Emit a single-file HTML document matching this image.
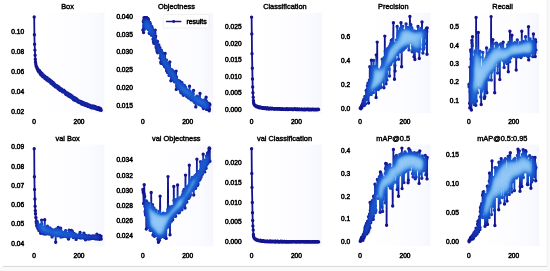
<!DOCTYPE html>
<html lang="en"><head><meta charset="utf-8"><title>results</title>
<style>
html,body{margin:0;padding:0;background:#fff;}
body{width:550px;height:271px;overflow:hidden;}
svg text{font-family:"Liberation Sans", Arial, Helvetica, sans-serif;fill:#000;}
svg text.t{font-weight:400;stroke:#000;stroke-width:0.42px;}
svg text.k{font-weight:400;stroke:#000;stroke-width:0.48px;}
</style></head><body>
<svg width="550" height="271" viewBox="0 0 550 271" style="display:block">
<defs>
<filter id="dm" x="0" y="0" width="550" height="271" filterUnits="userSpaceOnUse" color-interpolation-filters="sRGB"><feGaussianBlur in="SourceAlpha" stdDeviation="3.6" result="bl"/><feColorMatrix in="bl" type="matrix" values="0 0 0 1 0  0 0 0 1 0  0 0 0 1 0  0 0 0 0 1" result="dens"/><feComponentTransfer in="dens" result="col"><feFuncR type="table" tableValues="0.078 0.078 0.078 0.078 0.078 0.078 0.078 0.078 0.078 0.078 0.078 0.078 0.078 0.078 0.078 0.078 0.078 0.078 0.078 0.078 0.078 0.078 0.078 0.080 0.082 0.084 0.086 0.088 0.090 0.093 0.096 0.099 0.102 0.116 0.130 0.155 0.226 0.302 0.400 0.489 0.573"/><feFuncG type="table" tableValues="0.078 0.078 0.078 0.078 0.078 0.078 0.078 0.078 0.078 0.078 0.078 0.078 0.078 0.078 0.078 0.078 0.078 0.095 0.112 0.129 0.146 0.163 0.180 0.201 0.222 0.243 0.264 0.285 0.306 0.316 0.325 0.335 0.345 0.370 0.396 0.431 0.505 0.581 0.665 0.730 0.784"/><feFuncB type="table" tableValues="0.561 0.561 0.561 0.561 0.561 0.561 0.561 0.561 0.561 0.561 0.561 0.561 0.561 0.561 0.561 0.561 0.561 0.580 0.599 0.618 0.637 0.656 0.675 0.692 0.708 0.725 0.742 0.759 0.776 0.784 0.792 0.800 0.808 0.820 0.833 0.848 0.871 0.896 0.925 0.948 0.965"/></feComponentTransfer><feComposite in="col" in2="SourceAlpha" operator="in"/></filter>
<linearGradient id="bg" x1="0" y1="0" x2="1" y2="0"><stop offset="0" stop-color="#ffffff"/><stop offset="0.55" stop-color="#fdfdff"/><stop offset="0.82" stop-color="#fafbff"/><stop offset="1" stop-color="#f5f7fd"/></linearGradient>
</defs>
<rect x="0" y="0" width="550" height="271" fill="#ffffff"/>
<rect x="0" y="266.6" width="550" height="4.4" fill="#f9f9f9"/>
<rect x="3" y="265.9" width="544.4" height="1.0" fill="#d6d6d6"/>
<rect x="547.2" y="0" width="2.8" height="271" fill="#f8f8f8"/>
<rect x="546.7" y="0" width="0.7" height="266.6" fill="#ececec"/>
<rect x="34.8" y="12.8" width="69.7" height="100.4" fill="url(#bg)"/>
<rect x="143.5" y="12.8" width="69.7" height="100.4" fill="url(#bg)"/>
<rect x="252.2" y="12.8" width="69.7" height="100.4" fill="url(#bg)"/>
<rect x="360.8" y="12.8" width="69.7" height="100.4" fill="url(#bg)"/>
<rect x="469.5" y="12.8" width="69.7" height="100.4" fill="url(#bg)"/>
<rect x="34.8" y="144.6" width="69.7" height="101.6" fill="url(#bg)"/>
<rect x="143.5" y="144.6" width="69.7" height="101.6" fill="url(#bg)"/>
<rect x="252.2" y="144.6" width="69.7" height="101.6" fill="url(#bg)"/>
<rect x="360.8" y="144.6" width="69.7" height="101.6" fill="url(#bg)"/>
<rect x="469.5" y="144.6" width="69.7" height="101.6" fill="url(#bg)"/>
<rect x="163.4" y="14.6" width="45.8" height="13.4" rx="1.2" fill="#ffffff" fill-opacity="0.85" stroke="#e6e6ec" stroke-width="0.6"/>
<g filter="url(#dm)" stroke="#15158f" fill="none" stroke-linejoin="round" stroke-linecap="round">
<polyline points="34.2,17.0 34.4,34.7 34.6,44.2 34.9,50.1 35.1,55.3 35.3,59.3 35.5,62.0 35.8,64.1 36.0,65.1 36.2,66.4 36.4,66.4 36.7,67.1 36.9,68.1 37.1,67.6 37.3,69.1 37.6,69.3 37.8,70.2 38.0,70.3 38.2,71.0 38.5,71.4 38.7,70.0 38.9,72.1 39.1,71.7 39.4,70.5 39.6,70.9 39.8,71.5 40.0,72.3 40.2,73.8 40.5,74.3 40.7,72.2 40.9,73.4 41.1,75.0 41.4,73.4 41.6,73.3 41.8,73.9 42.0,73.5 42.3,76.1 42.5,74.8 42.7,75.7 42.9,76.8 43.2,75.1 43.4,74.9 43.6,75.7 43.8,77.3 44.1,75.6 44.3,76.7 44.5,76.9 44.7,76.3 45.0,78.5 45.2,76.6 45.4,77.0 45.6,76.9 45.8,79.1 46.1,77.2 46.3,79.4 46.5,79.8 46.7,77.6 47.0,77.8 47.2,77.9 47.4,79.5 47.6,80.2 47.9,80.8 48.1,79.0 48.3,79.0 48.5,78.9 48.8,81.0 49.0,81.3 49.2,79.8 49.4,79.7 49.7,79.6 49.9,82.1 50.1,81.5 50.3,80.3 50.6,82.1 50.8,81.2 51.0,83.3 51.2,81.4 51.4,81.2 51.7,81.5 51.9,81.6 52.1,82.2 52.3,84.0 52.6,82.3 52.8,84.4 53.0,82.5 53.2,85.0 53.5,82.9 53.7,85.2 53.9,84.9 54.1,85.3 54.4,83.9 54.6,85.9 54.8,85.6 55.0,86.5 55.3,86.3 55.5,86.1 55.7,87.0 55.9,85.3 56.2,86.8 56.4,85.5 56.6,85.9 56.8,87.3 57.0,85.8 57.3,86.4 57.5,86.2 57.7,88.2 57.9,87.2 58.2,88.7 58.4,86.6 58.6,88.9 58.8,89.1 59.1,89.5 59.3,89.4 59.5,87.7 59.7,88.1 60.0,90.2 60.2,89.9 60.4,89.9 60.6,88.8 60.9,90.1 61.1,89.3 61.3,88.9 61.5,89.2 61.8,90.9 62.0,90.8 62.2,91.2 62.4,91.8 62.6,91.8 62.9,91.8 63.1,91.9 63.3,92.0 63.5,90.9 63.8,90.3 64.0,90.7 64.2,90.8 64.4,91.1 64.7,91.6 64.9,91.2 65.1,91.7 65.3,92.7 65.6,94.1 65.8,93.3 66.0,94.3 66.2,94.6 66.5,93.5 66.7,92.8 66.9,94.7 67.1,93.1 67.4,93.8 67.6,95.3 67.8,93.1 68.0,95.1 68.2,95.5 68.5,93.8 68.7,96.1 68.9,94.3 69.1,96.4 69.4,96.1 69.6,96.6 69.8,94.8 70.0,96.5 70.3,94.8 70.5,95.5 70.7,95.5 70.9,96.2 71.2,97.4 71.4,97.3 71.6,95.7 71.8,98.0 72.1,96.0 72.3,96.5 72.5,98.3 72.7,97.1 73.0,98.6 73.2,98.7 73.4,98.2 73.6,99.7 73.8,98.7 74.1,97.5 74.3,99.6 74.5,98.1 74.7,99.5 75.0,100.1 75.2,98.2 75.4,100.6 75.6,100.2 75.9,98.4 76.1,100.5 76.3,98.8 76.5,99.4 76.8,99.1 77.0,99.6 77.2,101.0 77.4,99.7 77.7,101.8 77.9,101.2 78.1,101.6 78.3,101.4 78.6,102.3 78.8,102.3 79.0,101.1 79.2,102.2 79.4,100.9 79.7,101.4 79.9,101.1 80.1,101.4 80.3,101.7 80.6,103.1 80.8,101.6 81.0,103.4 81.2,103.7 81.5,101.7 81.7,102.5 81.9,102.1 82.1,102.8 82.4,102.6 82.6,104.4 82.8,104.3 83.0,102.8 83.3,103.1 83.5,104.6 83.7,102.7 83.9,104.7 84.2,103.7 84.4,104.9 84.6,103.3 84.8,104.9 85.0,105.2 85.3,105.4 85.5,105.3 85.7,105.4 85.9,104.4 86.2,105.1 86.4,103.9 86.6,104.0 86.8,104.3 87.1,104.6 87.3,104.4 87.5,104.3 87.7,106.4 88.0,106.3 88.2,106.0 88.4,106.4 88.6,105.0 88.9,106.3 89.1,106.4 89.3,106.4 89.5,106.8 89.8,105.2 90.0,105.5 90.2,105.7 90.4,107.2 90.6,106.7 90.9,105.8 91.1,107.4 91.3,107.1 91.5,107.7 91.8,107.7 92.0,107.5 92.2,107.2 92.4,107.1 92.7,106.0 92.9,107.6 93.1,108.0 93.3,106.3 93.6,108.1 93.8,108.1 94.0,106.3 94.2,106.6 94.5,108.0 94.7,108.3 94.9,108.0 95.1,108.2 95.4,106.8 95.6,108.1 95.8,108.7 96.0,107.0 96.2,107.5 96.5,108.9 96.7,109.0 96.9,108.5 97.1,109.2 97.4,107.9 97.6,108.0 97.8,109.4 98.0,107.8 98.3,107.9 98.5,107.8 98.7,108.2 98.9,108.3 99.2,109.7 99.4,109.9 99.6,110.0 99.8,108.3 100.1,108.8 100.3,108.5 100.5,109.9 100.7,108.8 101.0,110.3 101.2,110.3" stroke-width="1.8"/>
<path stroke-width="3.4" d="M34.2 17.0h0M34.4 34.7h0M34.6 44.2h0M34.9 50.1h0M35.1 55.3h0M35.3 59.3h0M35.5 62.0h0M35.8 64.1h0M36.0 65.1h0M36.2 66.4h0M36.4 66.4h0M36.7 67.1h0M36.9 68.1h0M37.1 67.6h0M37.3 69.1h0M37.6 69.3h0M37.8 70.2h0M38.0 70.3h0M38.2 71.0h0M38.5 71.4h0M38.7 70.0h0M38.9 72.1h0M39.1 71.7h0M39.4 70.5h0M39.6 70.9h0M39.8 71.5h0M40.0 72.3h0M40.2 73.8h0M40.5 74.3h0M40.7 72.2h0M40.9 73.4h0M41.1 75.0h0M41.4 73.4h0M41.6 73.3h0M41.8 73.9h0M42.0 73.5h0M42.3 76.1h0M42.5 74.8h0M42.7 75.7h0M42.9 76.8h0M43.2 75.1h0M43.4 74.9h0M43.6 75.7h0M43.8 77.3h0M44.1 75.6h0M44.3 76.7h0M44.5 76.9h0M44.7 76.3h0M45.0 78.5h0M45.2 76.6h0M45.4 77.0h0M45.6 76.9h0M45.8 79.1h0M46.1 77.2h0M46.3 79.4h0M46.5 79.8h0M46.7 77.6h0M47.0 77.8h0M47.2 77.9h0M47.4 79.5h0M47.6 80.2h0M47.9 80.8h0M48.1 79.0h0M48.3 79.0h0M48.5 78.9h0M48.8 81.0h0M49.0 81.3h0M49.2 79.8h0M49.4 79.7h0M49.7 79.6h0M49.9 82.1h0M50.1 81.5h0M50.3 80.3h0M50.6 82.1h0M50.8 81.2h0M51.0 83.3h0M51.2 81.4h0M51.4 81.2h0M51.7 81.5h0M51.9 81.6h0M52.1 82.2h0M52.3 84.0h0M52.6 82.3h0M52.8 84.4h0M53.0 82.5h0M53.2 85.0h0M53.5 82.9h0M53.7 85.2h0M53.9 84.9h0M54.1 85.3h0M54.4 83.9h0M54.6 85.9h0M54.8 85.6h0M55.0 86.5h0M55.3 86.3h0M55.5 86.1h0M55.7 87.0h0M55.9 85.3h0M56.2 86.8h0M56.4 85.5h0M56.6 85.9h0M56.8 87.3h0M57.0 85.8h0M57.3 86.4h0M57.5 86.2h0M57.7 88.2h0M57.9 87.2h0M58.2 88.7h0M58.4 86.6h0M58.6 88.9h0M58.8 89.1h0M59.1 89.5h0M59.3 89.4h0M59.5 87.7h0M59.7 88.1h0M60.0 90.2h0M60.2 89.9h0M60.4 89.9h0M60.6 88.8h0M60.9 90.1h0M61.1 89.3h0M61.3 88.9h0M61.5 89.2h0M61.8 90.9h0M62.0 90.8h0M62.2 91.2h0M62.4 91.8h0M62.6 91.8h0M62.9 91.8h0M63.1 91.9h0M63.3 92.0h0M63.5 90.9h0M63.8 90.3h0M64.0 90.7h0M64.2 90.8h0M64.4 91.1h0M64.7 91.6h0M64.9 91.2h0M65.1 91.7h0M65.3 92.7h0M65.6 94.1h0M65.8 93.3h0M66.0 94.3h0M66.2 94.6h0M66.5 93.5h0M66.7 92.8h0M66.9 94.7h0M67.1 93.1h0M67.4 93.8h0M67.6 95.3h0M67.8 93.1h0M68.0 95.1h0M68.2 95.5h0M68.5 93.8h0M68.7 96.1h0M68.9 94.3h0M69.1 96.4h0M69.4 96.1h0M69.6 96.6h0M69.8 94.8h0M70.0 96.5h0M70.3 94.8h0M70.5 95.5h0M70.7 95.5h0M70.9 96.2h0M71.2 97.4h0M71.4 97.3h0M71.6 95.7h0M71.8 98.0h0M72.1 96.0h0M72.3 96.5h0M72.5 98.3h0M72.7 97.1h0M73.0 98.6h0M73.2 98.7h0M73.4 98.2h0M73.6 99.7h0M73.8 98.7h0M74.1 97.5h0M74.3 99.6h0M74.5 98.1h0M74.7 99.5h0M75.0 100.1h0M75.2 98.2h0M75.4 100.6h0M75.6 100.2h0M75.9 98.4h0M76.1 100.5h0M76.3 98.8h0M76.5 99.4h0M76.8 99.1h0M77.0 99.6h0M77.2 101.0h0M77.4 99.7h0M77.7 101.8h0M77.9 101.2h0M78.1 101.6h0M78.3 101.4h0M78.6 102.3h0M78.8 102.3h0M79.0 101.1h0M79.2 102.2h0M79.4 100.9h0M79.7 101.4h0M79.9 101.1h0M80.1 101.4h0M80.3 101.7h0M80.6 103.1h0M80.8 101.6h0M81.0 103.4h0M81.2 103.7h0M81.5 101.7h0M81.7 102.5h0M81.9 102.1h0M82.1 102.8h0M82.4 102.6h0M82.6 104.4h0M82.8 104.3h0M83.0 102.8h0M83.3 103.1h0M83.5 104.6h0M83.7 102.7h0M83.9 104.7h0M84.2 103.7h0M84.4 104.9h0M84.6 103.3h0M84.8 104.9h0M85.0 105.2h0M85.3 105.4h0M85.5 105.3h0M85.7 105.4h0M85.9 104.4h0M86.2 105.1h0M86.4 103.9h0M86.6 104.0h0M86.8 104.3h0M87.1 104.6h0M87.3 104.4h0M87.5 104.3h0M87.7 106.4h0M88.0 106.3h0M88.2 106.0h0M88.4 106.4h0M88.6 105.0h0M88.9 106.3h0M89.1 106.4h0M89.3 106.4h0M89.5 106.8h0M89.8 105.2h0M90.0 105.5h0M90.2 105.7h0M90.4 107.2h0M90.6 106.7h0M90.9 105.8h0M91.1 107.4h0M91.3 107.1h0M91.5 107.7h0M91.8 107.7h0M92.0 107.5h0M92.2 107.2h0M92.4 107.1h0M92.7 106.0h0M92.9 107.6h0M93.1 108.0h0M93.3 106.3h0M93.6 108.1h0M93.8 108.1h0M94.0 106.3h0M94.2 106.6h0M94.5 108.0h0M94.7 108.3h0M94.9 108.0h0M95.1 108.2h0M95.4 106.8h0M95.6 108.1h0M95.8 108.7h0M96.0 107.0h0M96.2 107.5h0M96.5 108.9h0M96.7 109.0h0M96.9 108.5h0M97.1 109.2h0M97.4 107.9h0M97.6 108.0h0M97.8 109.4h0M98.0 107.8h0M98.3 107.9h0M98.5 107.8h0M98.7 108.2h0M98.9 108.3h0M99.2 109.7h0M99.4 109.9h0M99.6 110.0h0M99.8 108.3h0M100.1 108.8h0M100.3 108.5h0M100.5 109.9h0M100.7 108.8h0M101.0 110.3h0M101.2 110.3h0"/>
<polyline points="142.9,30.1 143.1,29.7 143.3,21.6 143.6,32.5 143.8,20.1 144.0,17.8 144.2,26.0 144.5,26.6 144.7,24.7 144.9,29.0 145.1,17.7 145.4,25.0 145.6,22.0 145.8,17.7 146.0,22.8 146.3,17.7 146.5,17.7 146.7,17.7 146.9,25.5 147.2,28.1 147.4,27.3 147.6,22.7 147.8,18.4 148.1,19.8 148.3,29.6 148.5,19.5 148.7,28.1 148.9,22.2 149.2,33.1 149.4,33.6 149.6,33.3 149.8,22.5 150.1,24.8 150.3,23.8 150.5,26.2 150.7,33.8 151.0,29.7 151.2,28.5 151.4,26.3 151.6,35.2 151.9,27.0 152.1,29.9 152.3,28.3 152.5,34.8 152.8,30.3 153.0,39.1 153.2,34.0 153.4,41.2 153.7,42.4 153.9,43.3 154.1,33.1 154.3,40.0 154.5,32.4 154.8,33.3 155.0,42.4 155.2,30.1 155.4,37.3 155.7,36.1 155.9,44.4 156.1,47.1 156.3,48.0 156.6,48.6 156.8,41.3 157.0,50.5 157.2,51.8 157.5,41.5 157.7,52.8 157.9,50.1 158.1,49.7 158.4,46.2 158.6,49.3 158.8,45.0 159.0,46.9 159.3,49.3 159.5,49.4 159.7,52.1 159.9,47.8 160.1,58.1 160.4,50.4 160.6,52.3 160.8,62.1 161.0,63.2 161.3,50.2 161.5,62.5 161.7,61.8 161.9,60.4 162.2,62.7 162.4,52.9 162.6,62.9 162.8,63.5 163.1,53.1 163.3,60.8 163.5,62.6 163.7,64.7 164.0,62.6 164.2,63.2 164.4,59.3 164.6,66.6 164.9,66.4 165.1,53.4 165.3,65.0 165.5,67.0 165.7,61.2 166.0,68.1 166.2,60.0 166.4,60.1 166.6,70.7 166.9,70.2 167.1,64.5 167.3,63.1 167.5,72.5 167.8,72.4 168.0,70.4 168.2,65.9 168.4,64.8 168.7,65.4 168.9,66.2 169.1,75.4 169.3,65.8 169.6,68.4 169.8,61.9 170.0,75.3 170.2,69.3 170.5,74.9 170.7,74.5 170.9,80.8 171.1,69.4 171.3,72.1 171.6,70.3 171.8,76.8 172.0,69.9 172.2,72.5 172.5,70.4 172.7,80.0 172.9,71.1 173.1,73.7 173.4,72.5 173.6,79.9 173.8,74.5 174.0,79.7 174.3,81.1 174.5,81.8 174.7,73.1 174.9,74.9 175.2,81.9 175.4,82.1 175.6,80.6 175.8,76.0 176.1,71.1 176.3,89.4 176.5,77.1 176.7,85.4 176.9,79.8 177.2,85.4 177.4,80.1 177.6,87.6 177.8,85.0 178.1,81.9 178.3,81.8 178.5,81.5 178.7,80.7 179.0,88.2 179.2,88.9 179.4,87.5 179.6,83.5 179.9,81.2 180.1,82.6 180.3,82.5 180.5,91.3 180.8,89.0 181.0,92.7 181.2,88.2 181.4,89.3 181.7,84.1 181.9,82.7 182.1,90.5 182.3,86.1 182.5,84.6 182.8,88.1 183.0,94.0 183.2,85.0 183.4,95.2 183.7,92.3 183.9,92.2 184.1,93.1 184.3,86.0 184.6,85.7 184.8,94.0 185.0,87.0 185.2,87.7 185.5,87.1 185.7,94.0 185.9,88.8 186.1,94.9 186.4,95.9 186.6,89.6 186.8,96.6 187.0,90.5 187.3,96.1 187.5,94.4 187.7,90.4 187.9,97.0 188.1,95.5 188.4,96.8 188.6,97.9 188.8,95.9 189.0,98.1 189.3,92.0 189.5,86.3 189.7,97.8 189.9,91.5 190.2,97.6 190.4,93.1 190.6,92.9 190.8,98.5 191.1,99.8 191.3,92.9 191.5,92.9 191.7,99.8 192.0,100.1 192.2,98.6 192.4,95.4 192.6,93.7 192.9,93.9 193.1,94.0 193.3,90.6 193.5,90.4 193.7,99.7 194.0,101.2 194.2,102.0 194.4,101.8 194.6,101.0 194.9,102.4 195.1,102.2 195.3,102.7 195.5,97.4 195.8,106.9 196.0,102.1 196.2,98.5 196.4,101.0 196.7,97.3 196.9,96.1 197.1,101.7 197.3,97.7 197.6,102.7 197.8,96.8 198.0,98.6 198.2,103.8 198.5,103.6 198.7,104.3 198.9,104.4 199.1,104.0 199.3,99.0 199.6,103.1 199.8,104.4 200.0,93.4 200.2,104.5 200.5,99.5 200.7,105.3 200.9,104.5 201.1,104.4 201.4,105.3 201.6,100.1 201.8,105.6 202.0,105.2 202.3,106.3 202.5,100.7 202.7,105.1 202.9,101.2 203.2,105.8 203.4,108.5 203.6,105.2 203.8,100.4 204.1,100.1 204.3,104.8 204.5,100.0 204.7,106.0 204.9,102.1 205.2,105.5 205.4,104.6 205.6,106.1 205.8,100.8 206.1,97.3 206.3,101.2 206.5,109.4 206.7,106.1 207.0,106.1 207.2,102.8 207.4,107.0 207.6,105.6 207.9,108.2 208.1,107.4 208.3,103.1 208.5,108.4 208.8,106.7 209.0,108.3 209.2,110.8 209.4,109.2 209.7,104.0 209.9,104.7" stroke-width="1.8"/>
<path stroke-width="3.4" d="M142.9 30.1h0M143.1 29.7h0M143.3 21.6h0M143.6 32.5h0M143.8 20.1h0M144.0 17.8h0M144.2 26.0h0M144.5 26.6h0M144.7 24.7h0M144.9 29.0h0M145.1 17.7h0M145.4 25.0h0M145.6 22.0h0M145.8 17.7h0M146.0 22.8h0M146.3 17.7h0M146.5 17.7h0M146.7 17.7h0M146.9 25.5h0M147.2 28.1h0M147.4 27.3h0M147.6 22.7h0M147.8 18.4h0M148.1 19.8h0M148.3 29.6h0M148.5 19.5h0M148.7 28.1h0M148.9 22.2h0M149.2 33.1h0M149.4 33.6h0M149.6 33.3h0M149.8 22.5h0M150.1 24.8h0M150.3 23.8h0M150.5 26.2h0M150.7 33.8h0M151.0 29.7h0M151.2 28.5h0M151.4 26.3h0M151.6 35.2h0M151.9 27.0h0M152.1 29.9h0M152.3 28.3h0M152.5 34.8h0M152.8 30.3h0M153.0 39.1h0M153.2 34.0h0M153.4 41.2h0M153.7 42.4h0M153.9 43.3h0M154.1 33.1h0M154.3 40.0h0M154.5 32.4h0M154.8 33.3h0M155.0 42.4h0M155.2 30.1h0M155.4 37.3h0M155.7 36.1h0M155.9 44.4h0M156.1 47.1h0M156.3 48.0h0M156.6 48.6h0M156.8 41.3h0M157.0 50.5h0M157.2 51.8h0M157.5 41.5h0M157.7 52.8h0M157.9 50.1h0M158.1 49.7h0M158.4 46.2h0M158.6 49.3h0M158.8 45.0h0M159.0 46.9h0M159.3 49.3h0M159.5 49.4h0M159.7 52.1h0M159.9 47.8h0M160.1 58.1h0M160.4 50.4h0M160.6 52.3h0M160.8 62.1h0M161.0 63.2h0M161.3 50.2h0M161.5 62.5h0M161.7 61.8h0M161.9 60.4h0M162.2 62.7h0M162.4 52.9h0M162.6 62.9h0M162.8 63.5h0M163.1 53.1h0M163.3 60.8h0M163.5 62.6h0M163.7 64.7h0M164.0 62.6h0M164.2 63.2h0M164.4 59.3h0M164.6 66.6h0M164.9 66.4h0M165.1 53.4h0M165.3 65.0h0M165.5 67.0h0M165.7 61.2h0M166.0 68.1h0M166.2 60.0h0M166.4 60.1h0M166.6 70.7h0M166.9 70.2h0M167.1 64.5h0M167.3 63.1h0M167.5 72.5h0M167.8 72.4h0M168.0 70.4h0M168.2 65.9h0M168.4 64.8h0M168.7 65.4h0M168.9 66.2h0M169.1 75.4h0M169.3 65.8h0M169.6 68.4h0M169.8 61.9h0M170.0 75.3h0M170.2 69.3h0M170.5 74.9h0M170.7 74.5h0M170.9 80.8h0M171.1 69.4h0M171.3 72.1h0M171.6 70.3h0M171.8 76.8h0M172.0 69.9h0M172.2 72.5h0M172.5 70.4h0M172.7 80.0h0M172.9 71.1h0M173.1 73.7h0M173.4 72.5h0M173.6 79.9h0M173.8 74.5h0M174.0 79.7h0M174.3 81.1h0M174.5 81.8h0M174.7 73.1h0M174.9 74.9h0M175.2 81.9h0M175.4 82.1h0M175.6 80.6h0M175.8 76.0h0M176.1 71.1h0M176.3 89.4h0M176.5 77.1h0M176.7 85.4h0M176.9 79.8h0M177.2 85.4h0M177.4 80.1h0M177.6 87.6h0M177.8 85.0h0M178.1 81.9h0M178.3 81.8h0M178.5 81.5h0M178.7 80.7h0M179.0 88.2h0M179.2 88.9h0M179.4 87.5h0M179.6 83.5h0M179.9 81.2h0M180.1 82.6h0M180.3 82.5h0M180.5 91.3h0M180.8 89.0h0M181.0 92.7h0M181.2 88.2h0M181.4 89.3h0M181.7 84.1h0M181.9 82.7h0M182.1 90.5h0M182.3 86.1h0M182.5 84.6h0M182.8 88.1h0M183.0 94.0h0M183.2 85.0h0M183.4 95.2h0M183.7 92.3h0M183.9 92.2h0M184.1 93.1h0M184.3 86.0h0M184.6 85.7h0M184.8 94.0h0M185.0 87.0h0M185.2 87.7h0M185.5 87.1h0M185.7 94.0h0M185.9 88.8h0M186.1 94.9h0M186.4 95.9h0M186.6 89.6h0M186.8 96.6h0M187.0 90.5h0M187.3 96.1h0M187.5 94.4h0M187.7 90.4h0M187.9 97.0h0M188.1 95.5h0M188.4 96.8h0M188.6 97.9h0M188.8 95.9h0M189.0 98.1h0M189.3 92.0h0M189.5 86.3h0M189.7 97.8h0M189.9 91.5h0M190.2 97.6h0M190.4 93.1h0M190.6 92.9h0M190.8 98.5h0M191.1 99.8h0M191.3 92.9h0M191.5 92.9h0M191.7 99.8h0M192.0 100.1h0M192.2 98.6h0M192.4 95.4h0M192.6 93.7h0M192.9 93.9h0M193.1 94.0h0M193.3 90.6h0M193.5 90.4h0M193.7 99.7h0M194.0 101.2h0M194.2 102.0h0M194.4 101.8h0M194.6 101.0h0M194.9 102.4h0M195.1 102.2h0M195.3 102.7h0M195.5 97.4h0M195.8 106.9h0M196.0 102.1h0M196.2 98.5h0M196.4 101.0h0M196.7 97.3h0M196.9 96.1h0M197.1 101.7h0M197.3 97.7h0M197.6 102.7h0M197.8 96.8h0M198.0 98.6h0M198.2 103.8h0M198.5 103.6h0M198.7 104.3h0M198.9 104.4h0M199.1 104.0h0M199.3 99.0h0M199.6 103.1h0M199.8 104.4h0M200.0 93.4h0M200.2 104.5h0M200.5 99.5h0M200.7 105.3h0M200.9 104.5h0M201.1 104.4h0M201.4 105.3h0M201.6 100.1h0M201.8 105.6h0M202.0 105.2h0M202.3 106.3h0M202.5 100.7h0M202.7 105.1h0M202.9 101.2h0M203.2 105.8h0M203.4 108.5h0M203.6 105.2h0M203.8 100.4h0M204.1 100.1h0M204.3 104.8h0M204.5 100.0h0M204.7 106.0h0M204.9 102.1h0M205.2 105.5h0M205.4 104.6h0M205.6 106.1h0M205.8 100.8h0M206.1 97.3h0M206.3 101.2h0M206.5 109.4h0M206.7 106.1h0M207.0 106.1h0M207.2 102.8h0M207.4 107.0h0M207.6 105.6h0M207.9 108.2h0M208.1 107.4h0M208.3 103.1h0M208.5 108.4h0M208.8 106.7h0M209.0 108.3h0M209.2 110.8h0M209.4 109.2h0M209.7 104.0h0M209.9 104.7h0"/>
<path d="M166.6 21.5H180.8" stroke-width="1.4"/>
<path d="M173.7 21.5h0" stroke-width="2.9"/>
<polyline points="251.6,17.1 251.8,34.0 252.0,53.8 252.3,68.3 252.5,79.0 252.7,86.9 252.9,92.8 253.2,97.2 253.4,100.6 253.6,102.7 253.8,103.8 254.1,104.3 254.3,104.9 254.5,105.0 254.7,105.2 255.0,105.3 255.2,105.9 255.4,105.7 255.6,105.8 255.9,106.3 256.1,106.6 256.3,105.9 256.5,106.7 256.8,106.7 257.0,106.2 257.2,106.5 257.4,106.9 257.6,106.6 257.9,107.3 258.1,106.8 258.3,107.3 258.5,107.5 258.8,107.0 259.0,107.0 259.2,107.7 259.4,107.2 259.7,107.7 259.9,107.3 260.1,107.3 260.3,107.9 260.6,107.4 260.8,107.5 261.0,107.5 261.2,107.5 261.5,108.0 261.7,107.6 261.9,107.6 262.1,108.3 262.4,107.7 262.6,108.2 262.8,108.1 263.0,108.4 263.2,107.9 263.5,108.4 263.7,107.8 263.9,108.4 264.1,108.0 264.4,108.4 264.6,108.0 264.8,108.5 265.0,108.6 265.3,108.0 265.5,108.0 265.7,108.2 265.9,108.0 266.2,108.7 266.4,108.1 266.6,108.7 266.8,108.1 267.1,108.3 267.3,108.3 267.5,108.2 267.7,108.3 268.0,108.3 268.2,108.9 268.4,108.8 268.6,109.0 268.8,108.9 269.1,108.9 269.3,108.3 269.5,109.0 269.7,108.9 270.0,108.7 270.2,108.4 270.4,108.3 270.6,108.4 270.9,108.9 271.1,108.6 271.3,108.5 271.5,109.0 271.8,108.5 272.0,108.9 272.2,108.6 272.4,108.5 272.7,108.5 272.9,108.7 273.1,108.7 273.3,109.0 273.6,108.8 273.8,109.1 274.0,108.9 274.2,108.7 274.4,108.6 274.7,109.0 274.9,109.2 275.1,108.8 275.3,109.1 275.6,108.7 275.8,109.0 276.0,109.1 276.2,108.6 276.5,109.0 276.7,109.1 276.9,109.1 277.1,108.9 277.4,109.2 277.6,108.8 277.8,108.6 278.0,108.8 278.3,108.7 278.5,108.6 278.7,108.6 278.9,108.7 279.2,108.7 279.4,108.7 279.6,109.2 279.8,109.0 280.0,109.2 280.3,109.2 280.5,108.9 280.7,109.2 280.9,108.8 281.2,108.9 281.4,109.3 281.6,109.1 281.8,109.2 282.1,108.8 282.3,109.3 282.5,109.3 282.7,109.0 283.0,109.2 283.2,108.9 283.4,109.3 283.6,109.4 283.9,108.9 284.1,109.4 284.3,109.4 284.5,109.4 284.8,109.3 285.0,109.4 285.2,109.1 285.4,108.9 285.6,109.5 285.9,109.3 286.1,109.0 286.3,108.9 286.5,108.9 286.8,109.4 287.0,109.1 287.2,108.9 287.4,109.5 287.7,109.0 287.9,109.4 288.1,109.0 288.3,108.9 288.6,109.1 288.8,109.5 289.0,109.4 289.2,109.3 289.5,108.9 289.7,109.4 289.9,109.0 290.1,109.3 290.4,109.4 290.6,109.0 290.8,109.4 291.0,109.4 291.2,109.0 291.5,109.3 291.7,109.1 291.9,109.2 292.1,109.5 292.4,109.4 292.6,109.1 292.8,109.2 293.0,109.1 293.3,109.6 293.5,109.5 293.7,109.1 293.9,109.2 294.2,109.2 294.4,109.2 294.6,109.1 294.8,109.2 295.1,109.3 295.3,109.3 295.5,109.2 295.7,109.5 296.0,109.2 296.2,109.2 296.4,109.1 296.6,109.4 296.8,109.6 297.1,109.2 297.3,109.1 297.5,109.2 297.7,109.2 298.0,109.5 298.2,109.5 298.4,109.2 298.6,109.6 298.9,109.1 299.1,109.1 299.3,109.1 299.5,109.6 299.8,109.6 300.0,109.2 300.2,109.5 300.4,109.6 300.7,109.5 300.9,109.3 301.1,109.6 301.3,109.5 301.6,109.3 301.8,109.3 302.0,109.7 302.2,109.3 302.4,109.6 302.7,109.6 302.9,109.4 303.1,109.6 303.3,109.3 303.6,109.7 303.8,109.4 304.0,109.7 304.2,109.4 304.5,109.3 304.7,109.3 304.9,109.7 305.1,109.4 305.4,109.3 305.6,109.7 305.8,109.6 306.0,109.4 306.3,109.3 306.5,109.6 306.7,109.4 306.9,109.4 307.2,109.6 307.4,109.4 307.6,109.4 307.8,109.4 308.0,109.5 308.3,109.7 308.5,109.6 308.7,109.3 308.9,109.7 309.2,109.7 309.4,109.8 309.6,109.4 309.8,109.3 310.1,109.7 310.3,109.7 310.5,109.7 310.7,109.5 311.0,109.6 311.2,109.4 311.4,109.8 311.6,109.4 311.9,109.7 312.1,109.4 312.3,109.4 312.5,109.4 312.8,109.6 313.0,109.5 313.2,109.5 313.4,109.8 313.6,109.6 313.9,109.4 314.1,109.4 314.3,109.8 314.5,109.5 314.8,109.7 315.0,109.8 315.2,109.8 315.4,109.4 315.7,109.4 315.9,109.6 316.1,109.7 316.3,109.6 316.6,109.4 316.8,109.5 317.0,109.8 317.2,109.8 317.5,109.4 317.7,109.6 317.9,109.5 318.1,109.5 318.4,109.5 318.6,109.5" stroke-width="1.8"/>
<path stroke-width="3.4" d="M251.6 17.1h0M251.8 34.0h0M252.0 53.8h0M252.3 68.3h0M252.5 79.0h0M252.7 86.9h0M252.9 92.8h0M253.2 97.2h0M253.4 100.6h0M253.6 102.7h0M253.8 103.8h0M254.1 104.3h0M254.3 104.9h0M254.5 105.0h0M254.7 105.2h0M255.0 105.3h0M255.2 105.9h0M255.4 105.7h0M255.6 105.8h0M255.9 106.3h0M256.1 106.6h0M256.3 105.9h0M256.5 106.7h0M256.8 106.7h0M257.0 106.2h0M257.2 106.5h0M257.4 106.9h0M257.6 106.6h0M257.9 107.3h0M258.1 106.8h0M258.3 107.3h0M258.5 107.5h0M258.8 107.0h0M259.0 107.0h0M259.2 107.7h0M259.4 107.2h0M259.7 107.7h0M259.9 107.3h0M260.1 107.3h0M260.3 107.9h0M260.6 107.4h0M260.8 107.5h0M261.0 107.5h0M261.2 107.5h0M261.5 108.0h0M261.7 107.6h0M261.9 107.6h0M262.1 108.3h0M262.4 107.7h0M262.6 108.2h0M262.8 108.1h0M263.0 108.4h0M263.2 107.9h0M263.5 108.4h0M263.7 107.8h0M263.9 108.4h0M264.1 108.0h0M264.4 108.4h0M264.6 108.0h0M264.8 108.5h0M265.0 108.6h0M265.3 108.0h0M265.5 108.0h0M265.7 108.2h0M265.9 108.0h0M266.2 108.7h0M266.4 108.1h0M266.6 108.7h0M266.8 108.1h0M267.1 108.3h0M267.3 108.3h0M267.5 108.2h0M267.7 108.3h0M268.0 108.3h0M268.2 108.9h0M268.4 108.8h0M268.6 109.0h0M268.8 108.9h0M269.1 108.9h0M269.3 108.3h0M269.5 109.0h0M269.7 108.9h0M270.0 108.7h0M270.2 108.4h0M270.4 108.3h0M270.6 108.4h0M270.9 108.9h0M271.1 108.6h0M271.3 108.5h0M271.5 109.0h0M271.8 108.5h0M272.0 108.9h0M272.2 108.6h0M272.4 108.5h0M272.7 108.5h0M272.9 108.7h0M273.1 108.7h0M273.3 109.0h0M273.6 108.8h0M273.8 109.1h0M274.0 108.9h0M274.2 108.7h0M274.4 108.6h0M274.7 109.0h0M274.9 109.2h0M275.1 108.8h0M275.3 109.1h0M275.6 108.7h0M275.8 109.0h0M276.0 109.1h0M276.2 108.6h0M276.5 109.0h0M276.7 109.1h0M276.9 109.1h0M277.1 108.9h0M277.4 109.2h0M277.6 108.8h0M277.8 108.6h0M278.0 108.8h0M278.3 108.7h0M278.5 108.6h0M278.7 108.6h0M278.9 108.7h0M279.2 108.7h0M279.4 108.7h0M279.6 109.2h0M279.8 109.0h0M280.0 109.2h0M280.3 109.2h0M280.5 108.9h0M280.7 109.2h0M280.9 108.8h0M281.2 108.9h0M281.4 109.3h0M281.6 109.1h0M281.8 109.2h0M282.1 108.8h0M282.3 109.3h0M282.5 109.3h0M282.7 109.0h0M283.0 109.2h0M283.2 108.9h0M283.4 109.3h0M283.6 109.4h0M283.9 108.9h0M284.1 109.4h0M284.3 109.4h0M284.5 109.4h0M284.8 109.3h0M285.0 109.4h0M285.2 109.1h0M285.4 108.9h0M285.6 109.5h0M285.9 109.3h0M286.1 109.0h0M286.3 108.9h0M286.5 108.9h0M286.8 109.4h0M287.0 109.1h0M287.2 108.9h0M287.4 109.5h0M287.7 109.0h0M287.9 109.4h0M288.1 109.0h0M288.3 108.9h0M288.6 109.1h0M288.8 109.5h0M289.0 109.4h0M289.2 109.3h0M289.5 108.9h0M289.7 109.4h0M289.9 109.0h0M290.1 109.3h0M290.4 109.4h0M290.6 109.0h0M290.8 109.4h0M291.0 109.4h0M291.2 109.0h0M291.5 109.3h0M291.7 109.1h0M291.9 109.2h0M292.1 109.5h0M292.4 109.4h0M292.6 109.1h0M292.8 109.2h0M293.0 109.1h0M293.3 109.6h0M293.5 109.5h0M293.7 109.1h0M293.9 109.2h0M294.2 109.2h0M294.4 109.2h0M294.6 109.1h0M294.8 109.2h0M295.1 109.3h0M295.3 109.3h0M295.5 109.2h0M295.7 109.5h0M296.0 109.2h0M296.2 109.2h0M296.4 109.1h0M296.6 109.4h0M296.8 109.6h0M297.1 109.2h0M297.3 109.1h0M297.5 109.2h0M297.7 109.2h0M298.0 109.5h0M298.2 109.5h0M298.4 109.2h0M298.6 109.6h0M298.9 109.1h0M299.1 109.1h0M299.3 109.1h0M299.5 109.6h0M299.8 109.6h0M300.0 109.2h0M300.2 109.5h0M300.4 109.6h0M300.7 109.5h0M300.9 109.3h0M301.1 109.6h0M301.3 109.5h0M301.6 109.3h0M301.8 109.3h0M302.0 109.7h0M302.2 109.3h0M302.4 109.6h0M302.7 109.6h0M302.9 109.4h0M303.1 109.6h0M303.3 109.3h0M303.6 109.7h0M303.8 109.4h0M304.0 109.7h0M304.2 109.4h0M304.5 109.3h0M304.7 109.3h0M304.9 109.7h0M305.1 109.4h0M305.4 109.3h0M305.6 109.7h0M305.8 109.6h0M306.0 109.4h0M306.3 109.3h0M306.5 109.6h0M306.7 109.4h0M306.9 109.4h0M307.2 109.6h0M307.4 109.4h0M307.6 109.4h0M307.8 109.4h0M308.0 109.5h0M308.3 109.7h0M308.5 109.6h0M308.7 109.3h0M308.9 109.7h0M309.2 109.7h0M309.4 109.8h0M309.6 109.4h0M309.8 109.3h0M310.1 109.7h0M310.3 109.7h0M310.5 109.7h0M310.7 109.5h0M311.0 109.6h0M311.2 109.4h0M311.4 109.8h0M311.6 109.4h0M311.9 109.7h0M312.1 109.4h0M312.3 109.4h0M312.5 109.4h0M312.8 109.6h0M313.0 109.5h0M313.2 109.5h0M313.4 109.8h0M313.6 109.6h0M313.9 109.4h0M314.1 109.4h0M314.3 109.8h0M314.5 109.5h0M314.8 109.7h0M315.0 109.8h0M315.2 109.8h0M315.4 109.4h0M315.7 109.4h0M315.9 109.6h0M316.1 109.7h0M316.3 109.6h0M316.6 109.4h0M316.8 109.5h0M317.0 109.8h0M317.2 109.8h0M317.5 109.4h0M317.7 109.6h0M317.9 109.5h0M318.1 109.5h0M318.4 109.5h0M318.6 109.5h0"/>
<polyline points="360.2,108.2 360.4,108.4 360.6,107.5 360.9,108.7 361.1,107.2 361.3,107.9 361.5,106.0 361.8,107.8 362.0,105.0 362.2,105.5 362.4,103.9 362.7,105.4 362.9,105.4 363.1,102.3 363.3,101.0 363.6,105.0 363.8,99.8 364.0,99.3 364.2,105.5 364.5,100.1 364.7,98.7 364.9,96.5 365.1,97.6 365.4,104.0 365.6,99.1 365.8,98.6 366.0,97.1 366.2,90.5 366.5,98.9 366.7,99.6 366.9,92.8 367.1,89.8 367.4,85.7 367.6,89.1 367.8,96.5 368.0,83.2 368.3,91.0 368.5,103.0 368.7,90.6 368.9,95.0 369.2,82.1 369.4,80.1 369.6,93.8 369.8,66.8 370.1,89.5 370.3,91.9 370.5,90.2 370.7,71.1 371.0,71.1 371.2,94.4 371.4,60.3 371.6,88.8 371.8,67.7 372.1,74.9 372.3,68.6 372.5,84.9 372.7,83.0 373.0,83.9 373.2,66.8 373.4,92.4 373.6,60.4 373.9,67.4 374.1,68.2 374.3,83.9 374.5,85.9 374.8,69.4 375.0,89.2 375.2,83.5 375.4,67.4 375.7,66.4 375.9,86.3 376.1,97.5 376.3,54.9 376.6,71.2 376.8,86.0 377.0,76.1 377.2,42.1 377.4,69.7 377.7,75.0 377.9,69.7 378.1,89.1 378.3,89.6 378.6,83.4 378.8,77.4 379.0,83.8 379.2,70.3 379.5,71.9 379.7,70.2 379.9,87.9 380.1,85.1 380.4,87.7 380.6,81.6 380.8,77.7 381.0,86.7 381.3,67.6 381.5,75.9 381.7,73.1 381.9,67.0 382.2,59.3 382.4,65.6 382.6,81.9 382.8,80.5 383.0,61.2 383.3,76.3 383.5,59.2 383.7,66.3 383.9,87.7 384.2,57.7 384.4,76.0 384.6,73.3 384.8,36.1 385.1,68.5 385.3,51.3 385.5,52.3 385.7,51.7 386.0,83.7 386.2,73.9 386.4,68.7 386.6,59.7 386.9,80.1 387.1,66.0 387.3,55.8 387.5,48.7 387.8,65.8 388.0,50.2 388.2,53.7 388.4,56.3 388.6,52.7 388.9,60.4 389.1,69.3 389.3,46.7 389.5,76.0 389.8,46.3 390.0,61.8 390.2,48.4 390.4,44.7 390.7,64.5 390.9,43.1 391.1,63.3 391.3,40.4 391.6,60.7 391.8,40.6 392.0,61.6 392.2,50.5 392.5,39.5 392.7,42.1 392.9,47.0 393.1,44.9 393.4,22.8 393.6,46.5 393.8,60.2 394.0,43.6 394.2,46.0 394.5,79.3 394.7,45.7 394.9,65.4 395.1,71.1 395.4,46.8 395.6,60.1 395.8,46.8 396.0,43.5 396.3,45.6 396.5,39.9 396.7,53.3 396.9,54.4 397.2,26.4 397.4,52.9 397.6,46.6 397.8,35.8 398.1,33.4 398.3,37.3 398.5,59.3 398.7,31.2 399.0,35.9 399.2,51.9 399.4,36.0 399.6,51.9 399.8,34.0 400.1,28.7 400.3,40.8 400.5,28.8 400.7,49.9 401.0,22.8 401.2,48.0 401.4,30.6 401.6,66.8 401.9,44.7 402.1,49.4 402.3,50.6 402.5,32.7 402.8,26.4 403.0,49.2 403.2,35.0 403.4,47.2 403.7,30.7 403.9,49.3 404.1,36.4 404.3,31.3 404.6,38.1 404.8,34.8 405.0,32.5 405.2,34.0 405.4,32.0 405.7,47.5 405.9,30.4 406.1,24.0 406.3,29.5 406.6,32.2 406.8,31.1 407.0,27.6 407.2,46.1 407.5,27.7 407.7,42.7 407.9,28.0 408.1,43.6 408.4,38.4 408.6,44.8 408.8,28.1 409.0,49.9 409.3,37.5 409.5,27.2 409.7,39.5 409.9,16.5 410.2,32.9 410.4,24.5 410.6,27.1 410.8,24.7 411.0,29.2 411.3,42.4 411.5,34.8 411.7,27.8 411.9,28.5 412.2,51.8 412.4,45.9 412.6,46.2 412.8,34.6 413.1,47.6 413.3,33.5 413.5,45.9 413.7,31.8 414.0,56.7 414.2,31.0 414.4,46.5 414.6,51.0 414.9,59.5 415.1,33.5 415.3,50.0 415.5,48.9 415.8,31.5 416.0,45.6 416.2,36.3 416.4,38.6 416.6,43.4 416.9,31.7 417.1,50.7 417.3,45.3 417.5,43.5 417.8,34.6 418.0,26.4 418.2,51.1 418.4,50.1 418.7,48.2 418.9,51.8 419.1,33.6 419.3,58.5 419.6,31.3 419.8,44.9 420.0,44.3 420.2,48.9 420.5,30.9 420.7,28.8 420.9,29.9 421.1,32.9 421.4,30.7 421.6,36.1 421.8,31.0 422.0,22.0 422.2,31.9 422.5,31.7 422.7,34.2 422.9,53.0 423.1,33.1 423.4,46.3 423.6,49.2 423.8,45.5 424.0,47.8 424.3,30.8 424.5,37.7 424.7,33.1 424.9,30.2 425.2,31.7 425.4,30.5 425.6,35.9 425.8,32.1 426.1,29.9 426.3,43.6 426.5,28.2 426.7,31.8 427.0,54.2 427.2,27.9" stroke-width="1.8"/>
<path stroke-width="3.4" d="M360.2 108.2h0M360.4 108.4h0M360.6 107.5h0M360.9 108.7h0M361.1 107.2h0M361.3 107.9h0M361.5 106.0h0M361.8 107.8h0M362.0 105.0h0M362.2 105.5h0M362.4 103.9h0M362.7 105.4h0M362.9 105.4h0M363.1 102.3h0M363.3 101.0h0M363.6 105.0h0M363.8 99.8h0M364.0 99.3h0M364.2 105.5h0M364.5 100.1h0M364.7 98.7h0M364.9 96.5h0M365.1 97.6h0M365.4 104.0h0M365.6 99.1h0M365.8 98.6h0M366.0 97.1h0M366.2 90.5h0M366.5 98.9h0M366.7 99.6h0M366.9 92.8h0M367.1 89.8h0M367.4 85.7h0M367.6 89.1h0M367.8 96.5h0M368.0 83.2h0M368.3 91.0h0M368.5 103.0h0M368.7 90.6h0M368.9 95.0h0M369.2 82.1h0M369.4 80.1h0M369.6 93.8h0M369.8 66.8h0M370.1 89.5h0M370.3 91.9h0M370.5 90.2h0M370.7 71.1h0M371.0 71.1h0M371.2 94.4h0M371.4 60.3h0M371.6 88.8h0M371.8 67.7h0M372.1 74.9h0M372.3 68.6h0M372.5 84.9h0M372.7 83.0h0M373.0 83.9h0M373.2 66.8h0M373.4 92.4h0M373.6 60.4h0M373.9 67.4h0M374.1 68.2h0M374.3 83.9h0M374.5 85.9h0M374.8 69.4h0M375.0 89.2h0M375.2 83.5h0M375.4 67.4h0M375.7 66.4h0M375.9 86.3h0M376.1 97.5h0M376.3 54.9h0M376.6 71.2h0M376.8 86.0h0M377.0 76.1h0M377.2 42.1h0M377.4 69.7h0M377.7 75.0h0M377.9 69.7h0M378.1 89.1h0M378.3 89.6h0M378.6 83.4h0M378.8 77.4h0M379.0 83.8h0M379.2 70.3h0M379.5 71.9h0M379.7 70.2h0M379.9 87.9h0M380.1 85.1h0M380.4 87.7h0M380.6 81.6h0M380.8 77.7h0M381.0 86.7h0M381.3 67.6h0M381.5 75.9h0M381.7 73.1h0M381.9 67.0h0M382.2 59.3h0M382.4 65.6h0M382.6 81.9h0M382.8 80.5h0M383.0 61.2h0M383.3 76.3h0M383.5 59.2h0M383.7 66.3h0M383.9 87.7h0M384.2 57.7h0M384.4 76.0h0M384.6 73.3h0M384.8 36.1h0M385.1 68.5h0M385.3 51.3h0M385.5 52.3h0M385.7 51.7h0M386.0 83.7h0M386.2 73.9h0M386.4 68.7h0M386.6 59.7h0M386.9 80.1h0M387.1 66.0h0M387.3 55.8h0M387.5 48.7h0M387.8 65.8h0M388.0 50.2h0M388.2 53.7h0M388.4 56.3h0M388.6 52.7h0M388.9 60.4h0M389.1 69.3h0M389.3 46.7h0M389.5 76.0h0M389.8 46.3h0M390.0 61.8h0M390.2 48.4h0M390.4 44.7h0M390.7 64.5h0M390.9 43.1h0M391.1 63.3h0M391.3 40.4h0M391.6 60.7h0M391.8 40.6h0M392.0 61.6h0M392.2 50.5h0M392.5 39.5h0M392.7 42.1h0M392.9 47.0h0M393.1 44.9h0M393.4 22.8h0M393.6 46.5h0M393.8 60.2h0M394.0 43.6h0M394.2 46.0h0M394.5 79.3h0M394.7 45.7h0M394.9 65.4h0M395.1 71.1h0M395.4 46.8h0M395.6 60.1h0M395.8 46.8h0M396.0 43.5h0M396.3 45.6h0M396.5 39.9h0M396.7 53.3h0M396.9 54.4h0M397.2 26.4h0M397.4 52.9h0M397.6 46.6h0M397.8 35.8h0M398.1 33.4h0M398.3 37.3h0M398.5 59.3h0M398.7 31.2h0M399.0 35.9h0M399.2 51.9h0M399.4 36.0h0M399.6 51.9h0M399.8 34.0h0M400.1 28.7h0M400.3 40.8h0M400.5 28.8h0M400.7 49.9h0M401.0 22.8h0M401.2 48.0h0M401.4 30.6h0M401.6 66.8h0M401.9 44.7h0M402.1 49.4h0M402.3 50.6h0M402.5 32.7h0M402.8 26.4h0M403.0 49.2h0M403.2 35.0h0M403.4 47.2h0M403.7 30.7h0M403.9 49.3h0M404.1 36.4h0M404.3 31.3h0M404.6 38.1h0M404.8 34.8h0M405.0 32.5h0M405.2 34.0h0M405.4 32.0h0M405.7 47.5h0M405.9 30.4h0M406.1 24.0h0M406.3 29.5h0M406.6 32.2h0M406.8 31.1h0M407.0 27.6h0M407.2 46.1h0M407.5 27.7h0M407.7 42.7h0M407.9 28.0h0M408.1 43.6h0M408.4 38.4h0M408.6 44.8h0M408.8 28.1h0M409.0 49.9h0M409.3 37.5h0M409.5 27.2h0M409.7 39.5h0M409.9 16.5h0M410.2 32.9h0M410.4 24.5h0M410.6 27.1h0M410.8 24.7h0M411.0 29.2h0M411.3 42.4h0M411.5 34.8h0M411.7 27.8h0M411.9 28.5h0M412.2 51.8h0M412.4 45.9h0M412.6 46.2h0M412.8 34.6h0M413.1 47.6h0M413.3 33.5h0M413.5 45.9h0M413.7 31.8h0M414.0 56.7h0M414.2 31.0h0M414.4 46.5h0M414.6 51.0h0M414.9 59.5h0M415.1 33.5h0M415.3 50.0h0M415.5 48.9h0M415.8 31.5h0M416.0 45.6h0M416.2 36.3h0M416.4 38.6h0M416.6 43.4h0M416.9 31.7h0M417.1 50.7h0M417.3 45.3h0M417.5 43.5h0M417.8 34.6h0M418.0 26.4h0M418.2 51.1h0M418.4 50.1h0M418.7 48.2h0M418.9 51.8h0M419.1 33.6h0M419.3 58.5h0M419.6 31.3h0M419.8 44.9h0M420.0 44.3h0M420.2 48.9h0M420.5 30.9h0M420.7 28.8h0M420.9 29.9h0M421.1 32.9h0M421.4 30.7h0M421.6 36.1h0M421.8 31.0h0M422.0 22.0h0M422.2 31.9h0M422.5 31.7h0M422.7 34.2h0M422.9 53.0h0M423.1 33.1h0M423.4 46.3h0M423.6 49.2h0M423.8 45.5h0M424.0 47.8h0M424.3 30.8h0M424.5 37.7h0M424.7 33.1h0M424.9 30.2h0M425.2 31.7h0M425.4 30.5h0M425.6 35.9h0M425.8 32.1h0M426.1 29.9h0M426.3 43.6h0M426.5 28.2h0M426.7 31.8h0M427.0 54.2h0M427.2 27.9h0"/>
<polyline points="468.9,84.6 469.1,86.7 469.3,84.0 469.6,103.2 469.8,107.9 470.0,67.1 470.2,91.8 470.5,100.4 470.7,49.9 470.9,51.6 471.1,59.0 471.4,110.0 471.6,77.7 471.8,40.4 472.0,43.1 472.3,45.7 472.5,36.6 472.7,102.2 472.9,58.0 473.2,100.5 473.4,69.8 473.6,96.5 473.8,58.0 474.1,104.5 474.3,65.3 474.5,57.0 474.7,94.3 474.9,52.3 475.2,51.0 475.4,93.8 475.6,54.0 475.8,105.2 476.1,17.5 476.3,76.9 476.5,101.0 476.7,84.9 477.0,56.2 477.2,87.1 477.4,92.8 477.6,61.4 477.9,80.0 478.1,56.7 478.3,32.4 478.5,81.9 478.8,53.2 479.0,65.8 479.2,65.3 479.4,81.2 479.7,87.1 479.9,51.1 480.1,87.9 480.3,57.2 480.5,83.4 480.8,96.9 481.0,85.1 481.2,104.5 481.4,73.7 481.7,91.3 481.9,67.4 482.1,68.9 482.3,68.1 482.6,80.9 482.8,52.5 483.0,67.4 483.2,88.7 483.5,64.5 483.7,65.7 483.9,80.3 484.1,61.0 484.4,98.4 484.6,79.9 484.8,96.7 485.0,80.8 485.3,64.5 485.5,67.3 485.7,59.6 485.9,58.1 486.1,91.5 486.4,59.6 486.6,48.0 486.8,92.8 487.0,56.3 487.3,73.6 487.5,63.1 487.7,69.4 487.9,53.1 488.2,74.6 488.4,71.9 488.6,79.9 488.8,70.8 489.1,58.7 489.3,52.2 489.5,52.0 489.7,71.2 490.0,50.0 490.2,72.6 490.4,51.8 490.6,72.0 490.9,66.5 491.1,16.6 491.3,80.1 491.5,52.1 491.7,72.2 492.0,59.9 492.2,70.3 492.4,63.5 492.6,43.9 492.9,39.6 493.1,51.9 493.3,67.9 493.5,63.4 493.8,69.8 494.0,69.8 494.2,66.8 494.4,63.9 494.7,92.8 494.9,49.1 495.1,59.4 495.3,60.2 495.6,43.5 495.8,49.3 496.0,62.2 496.2,50.1 496.5,43.3 496.7,53.4 496.9,51.2 497.1,56.9 497.3,52.4 497.6,73.1 497.8,45.0 498.0,65.9 498.2,64.9 498.5,64.2 498.7,64.3 498.9,65.7 499.1,63.8 499.4,54.5 499.6,50.8 499.8,79.6 500.0,60.8 500.3,59.6 500.5,44.5 500.7,44.0 500.9,48.6 501.2,58.7 501.4,50.1 501.6,58.2 501.8,48.0 502.1,58.8 502.3,47.1 502.5,44.4 502.7,48.6 502.9,51.7 503.2,42.3 503.4,54.5 503.6,60.8 503.8,61.1 504.1,67.4 504.3,56.1 504.5,49.4 504.7,61.9 505.0,53.0 505.2,55.8 505.4,52.0 505.6,50.1 505.9,52.9 506.1,51.7 506.3,61.9 506.5,50.0 506.8,57.2 507.0,63.6 507.2,48.1 507.4,56.8 507.7,44.7 507.9,46.7 508.1,44.9 508.3,71.7 508.5,53.5 508.8,56.0 509.0,42.4 509.2,58.3 509.4,56.3 509.7,61.7 509.9,31.3 510.1,47.8 510.3,56.5 510.6,58.1 510.8,57.1 511.0,48.1 511.2,51.5 511.5,49.8 511.7,53.3 511.9,35.2 512.1,51.9 512.4,44.8 512.6,55.7 512.8,46.1 513.0,54.8 513.3,55.1 513.5,53.5 513.7,55.5 513.9,43.3 514.1,52.7 514.4,54.9 514.6,56.5 514.8,56.5 515.0,42.6 515.3,53.6 515.5,43.5 515.7,45.2 515.9,46.0 516.2,70.0 516.4,48.8 516.6,45.5 516.8,57.1 517.1,45.6 517.3,40.0 517.5,46.0 517.7,54.5 518.0,47.6 518.2,50.1 518.4,56.6 518.6,46.3 518.9,45.9 519.1,52.1 519.3,54.1 519.5,45.1 519.7,54.5 520.0,42.7 520.2,54.0 520.4,54.7 520.6,54.9 520.9,57.6 521.1,55.5 521.3,55.5 521.5,56.4 521.8,31.3 522.0,51.0 522.2,54.8 522.4,53.2 522.7,41.6 522.9,52.9 523.1,50.5 523.3,41.5 523.6,53.5 523.8,50.8 524.0,43.8 524.2,55.3 524.5,55.2 524.7,43.4 524.9,45.6 525.1,53.4 525.3,50.0 525.6,36.8 525.8,42.5 526.0,41.7 526.2,53.3 526.5,55.3 526.7,51.9 526.9,49.4 527.1,42.5 527.4,54.7 527.6,56.0 527.8,51.2 528.0,56.5 528.3,51.4 528.5,26.7 528.7,59.9 528.9,53.2 529.2,51.8 529.4,55.8 529.6,52.8 529.8,43.5 530.1,39.0 530.3,46.9 530.5,45.8 530.7,46.1 530.9,43.1 531.2,52.0 531.4,51.3 531.6,42.1 531.8,47.7 532.1,41.7 532.3,53.2 532.5,43.5 532.7,56.6 533.0,49.8 533.2,43.3 533.4,33.9 533.6,47.8 533.9,52.8 534.1,51.5 534.3,42.9 534.5,50.0 534.8,42.3 535.0,52.6 535.2,56.5 535.4,39.7 535.7,41.9 535.9,50.1" stroke-width="1.8"/>
<path stroke-width="3.4" d="M468.9 84.6h0M469.1 86.7h0M469.3 84.0h0M469.6 103.2h0M469.8 107.9h0M470.0 67.1h0M470.2 91.8h0M470.5 100.4h0M470.7 49.9h0M470.9 51.6h0M471.1 59.0h0M471.4 110.0h0M471.6 77.7h0M471.8 40.4h0M472.0 43.1h0M472.3 45.7h0M472.5 36.6h0M472.7 102.2h0M472.9 58.0h0M473.2 100.5h0M473.4 69.8h0M473.6 96.5h0M473.8 58.0h0M474.1 104.5h0M474.3 65.3h0M474.5 57.0h0M474.7 94.3h0M474.9 52.3h0M475.2 51.0h0M475.4 93.8h0M475.6 54.0h0M475.8 105.2h0M476.1 17.5h0M476.3 76.9h0M476.5 101.0h0M476.7 84.9h0M477.0 56.2h0M477.2 87.1h0M477.4 92.8h0M477.6 61.4h0M477.9 80.0h0M478.1 56.7h0M478.3 32.4h0M478.5 81.9h0M478.8 53.2h0M479.0 65.8h0M479.2 65.3h0M479.4 81.2h0M479.7 87.1h0M479.9 51.1h0M480.1 87.9h0M480.3 57.2h0M480.5 83.4h0M480.8 96.9h0M481.0 85.1h0M481.2 104.5h0M481.4 73.7h0M481.7 91.3h0M481.9 67.4h0M482.1 68.9h0M482.3 68.1h0M482.6 80.9h0M482.8 52.5h0M483.0 67.4h0M483.2 88.7h0M483.5 64.5h0M483.7 65.7h0M483.9 80.3h0M484.1 61.0h0M484.4 98.4h0M484.6 79.9h0M484.8 96.7h0M485.0 80.8h0M485.3 64.5h0M485.5 67.3h0M485.7 59.6h0M485.9 58.1h0M486.1 91.5h0M486.4 59.6h0M486.6 48.0h0M486.8 92.8h0M487.0 56.3h0M487.3 73.6h0M487.5 63.1h0M487.7 69.4h0M487.9 53.1h0M488.2 74.6h0M488.4 71.9h0M488.6 79.9h0M488.8 70.8h0M489.1 58.7h0M489.3 52.2h0M489.5 52.0h0M489.7 71.2h0M490.0 50.0h0M490.2 72.6h0M490.4 51.8h0M490.6 72.0h0M490.9 66.5h0M491.1 16.6h0M491.3 80.1h0M491.5 52.1h0M491.7 72.2h0M492.0 59.9h0M492.2 70.3h0M492.4 63.5h0M492.6 43.9h0M492.9 39.6h0M493.1 51.9h0M493.3 67.9h0M493.5 63.4h0M493.8 69.8h0M494.0 69.8h0M494.2 66.8h0M494.4 63.9h0M494.7 92.8h0M494.9 49.1h0M495.1 59.4h0M495.3 60.2h0M495.6 43.5h0M495.8 49.3h0M496.0 62.2h0M496.2 50.1h0M496.5 43.3h0M496.7 53.4h0M496.9 51.2h0M497.1 56.9h0M497.3 52.4h0M497.6 73.1h0M497.8 45.0h0M498.0 65.9h0M498.2 64.9h0M498.5 64.2h0M498.7 64.3h0M498.9 65.7h0M499.1 63.8h0M499.4 54.5h0M499.6 50.8h0M499.8 79.6h0M500.0 60.8h0M500.3 59.6h0M500.5 44.5h0M500.7 44.0h0M500.9 48.6h0M501.2 58.7h0M501.4 50.1h0M501.6 58.2h0M501.8 48.0h0M502.1 58.8h0M502.3 47.1h0M502.5 44.4h0M502.7 48.6h0M502.9 51.7h0M503.2 42.3h0M503.4 54.5h0M503.6 60.8h0M503.8 61.1h0M504.1 67.4h0M504.3 56.1h0M504.5 49.4h0M504.7 61.9h0M505.0 53.0h0M505.2 55.8h0M505.4 52.0h0M505.6 50.1h0M505.9 52.9h0M506.1 51.7h0M506.3 61.9h0M506.5 50.0h0M506.8 57.2h0M507.0 63.6h0M507.2 48.1h0M507.4 56.8h0M507.7 44.7h0M507.9 46.7h0M508.1 44.9h0M508.3 71.7h0M508.5 53.5h0M508.8 56.0h0M509.0 42.4h0M509.2 58.3h0M509.4 56.3h0M509.7 61.7h0M509.9 31.3h0M510.1 47.8h0M510.3 56.5h0M510.6 58.1h0M510.8 57.1h0M511.0 48.1h0M511.2 51.5h0M511.5 49.8h0M511.7 53.3h0M511.9 35.2h0M512.1 51.9h0M512.4 44.8h0M512.6 55.7h0M512.8 46.1h0M513.0 54.8h0M513.3 55.1h0M513.5 53.5h0M513.7 55.5h0M513.9 43.3h0M514.1 52.7h0M514.4 54.9h0M514.6 56.5h0M514.8 56.5h0M515.0 42.6h0M515.3 53.6h0M515.5 43.5h0M515.7 45.2h0M515.9 46.0h0M516.2 70.0h0M516.4 48.8h0M516.6 45.5h0M516.8 57.1h0M517.1 45.6h0M517.3 40.0h0M517.5 46.0h0M517.7 54.5h0M518.0 47.6h0M518.2 50.1h0M518.4 56.6h0M518.6 46.3h0M518.9 45.9h0M519.1 52.1h0M519.3 54.1h0M519.5 45.1h0M519.7 54.5h0M520.0 42.7h0M520.2 54.0h0M520.4 54.7h0M520.6 54.9h0M520.9 57.6h0M521.1 55.5h0M521.3 55.5h0M521.5 56.4h0M521.8 31.3h0M522.0 51.0h0M522.2 54.8h0M522.4 53.2h0M522.7 41.6h0M522.9 52.9h0M523.1 50.5h0M523.3 41.5h0M523.6 53.5h0M523.8 50.8h0M524.0 43.8h0M524.2 55.3h0M524.5 55.2h0M524.7 43.4h0M524.9 45.6h0M525.1 53.4h0M525.3 50.0h0M525.6 36.8h0M525.8 42.5h0M526.0 41.7h0M526.2 53.3h0M526.5 55.3h0M526.7 51.9h0M526.9 49.4h0M527.1 42.5h0M527.4 54.7h0M527.6 56.0h0M527.8 51.2h0M528.0 56.5h0M528.3 51.4h0M528.5 26.7h0M528.7 59.9h0M528.9 53.2h0M529.2 51.8h0M529.4 55.8h0M529.6 52.8h0M529.8 43.5h0M530.1 39.0h0M530.3 46.9h0M530.5 45.8h0M530.7 46.1h0M530.9 43.1h0M531.2 52.0h0M531.4 51.3h0M531.6 42.1h0M531.8 47.7h0M532.1 41.7h0M532.3 53.2h0M532.5 43.5h0M532.7 56.6h0M533.0 49.8h0M533.2 43.3h0M533.4 33.9h0M533.6 47.8h0M533.9 52.8h0M534.1 51.5h0M534.3 42.9h0M534.5 50.0h0M534.8 42.3h0M535.0 52.6h0M535.2 56.5h0M535.4 39.7h0M535.7 41.9h0M535.9 50.1h0"/>
<polyline points="34.2,148.7 34.4,176.7 34.6,189.5 34.9,199.0 35.1,206.2 35.3,210.8 35.5,213.7 35.8,217.6 36.0,217.6 36.2,221.8 36.4,223.3 36.7,226.1 36.9,225.4 37.1,221.3 37.3,222.4 37.6,223.1 37.8,228.3 38.0,228.4 38.2,224.4 38.5,228.3 38.7,226.0 38.9,230.4 39.1,230.4 39.4,228.2 39.6,225.6 39.8,227.0 40.0,231.0 40.2,225.1 40.5,231.1 40.7,233.3 40.9,227.1 41.1,231.2 41.4,230.9 41.6,220.1 41.8,224.0 42.0,229.3 42.3,227.1 42.5,233.0 42.7,227.5 42.9,232.5 43.2,232.7 43.4,227.4 43.6,233.7 43.8,227.5 44.1,227.7 44.3,227.5 44.5,233.7 44.7,219.8 45.0,228.2 45.2,231.9 45.4,234.1 45.6,228.7 45.8,228.3 46.1,227.6 46.3,233.6 46.5,233.1 46.7,228.2 47.0,233.8 47.2,233.1 47.4,226.3 47.6,232.4 47.9,230.3 48.1,228.7 48.3,229.9 48.5,229.9 48.8,230.3 49.0,234.0 49.2,232.6 49.4,228.5 49.7,228.6 49.9,227.9 50.1,230.3 50.3,228.4 50.6,229.4 50.8,234.5 51.0,230.4 51.2,233.5 51.4,230.4 51.7,233.6 51.9,230.0 52.1,236.9 52.3,229.8 52.6,230.5 52.8,235.5 53.0,231.1 53.2,230.8 53.5,230.6 53.7,233.2 53.9,233.4 54.1,232.1 54.4,234.9 54.6,230.0 54.8,229.9 55.0,234.2 55.3,229.9 55.5,234.3 55.7,242.3 55.9,229.3 56.2,230.6 56.4,234.8 56.6,230.7 56.8,234.4 57.0,235.4 57.3,235.1 57.5,235.8 57.7,231.8 57.9,235.2 58.2,227.5 58.4,234.2 58.6,235.5 58.8,232.4 59.1,231.0 59.3,235.2 59.5,231.1 59.7,235.4 60.0,232.5 60.2,235.4 60.4,231.2 60.6,228.2 60.9,237.0 61.1,230.8 61.3,234.9 61.5,235.8 61.8,232.4 62.0,232.4 62.2,232.7 62.4,232.6 62.6,236.5 62.9,236.1 63.1,233.7 63.3,236.5 63.5,233.5 63.8,232.4 64.0,235.8 64.2,233.3 64.4,236.3 64.7,232.9 64.9,232.6 65.1,232.8 65.3,235.2 65.6,230.6 65.8,236.3 66.0,232.6 66.2,232.6 66.5,233.9 66.7,233.2 66.9,236.4 67.1,233.6 67.4,236.8 67.6,234.1 67.8,237.6 68.0,236.7 68.2,237.2 68.5,239.0 68.7,237.0 68.9,233.7 69.1,230.2 69.4,237.0 69.6,234.0 69.8,233.5 70.0,235.9 70.3,233.0 70.5,233.5 70.7,232.1 70.9,232.9 71.2,233.1 71.4,230.5 71.6,235.9 71.8,234.2 72.1,233.8 72.3,231.3 72.5,233.0 72.7,236.5 73.0,234.4 73.2,237.6 73.4,235.6 73.6,233.7 73.8,236.3 74.1,233.5 74.3,236.4 74.5,236.3 74.7,236.4 75.0,236.7 75.2,234.4 75.4,234.2 75.6,237.2 75.9,237.2 76.1,239.4 76.3,237.3 76.5,235.4 76.8,237.7 77.0,235.6 77.2,236.1 77.4,237.5 77.7,236.6 77.9,236.8 78.1,237.4 78.3,236.9 78.6,235.2 78.8,234.8 79.0,234.8 79.2,235.3 79.4,237.1 79.7,237.8 79.9,235.7 80.1,232.5 80.3,235.4 80.6,237.8 80.8,235.9 81.0,238.1 81.2,237.7 81.5,237.3 81.7,235.6 81.9,237.5 82.1,235.9 82.4,235.2 82.6,235.2 82.8,237.0 83.0,237.8 83.3,236.0 83.5,235.7 83.7,236.3 83.9,233.1 84.2,238.2 84.4,238.1 84.6,238.3 84.8,238.5 85.0,237.5 85.3,235.9 85.5,239.8 85.7,235.5 85.9,237.6 86.2,237.5 86.4,235.7 86.6,236.2 86.8,236.7 87.1,238.3 87.3,238.7 87.5,238.7 87.7,238.8 88.0,238.4 88.2,238.7 88.4,237.5 88.6,239.0 88.9,235.6 89.1,236.7 89.3,236.9 89.5,237.4 89.8,238.8 90.0,236.7 90.2,236.6 90.4,238.8 90.6,236.4 90.9,236.2 91.1,238.4 91.3,238.4 91.5,236.4 91.8,237.5 92.0,238.4 92.2,236.5 92.4,236.1 92.7,236.2 92.9,238.3 93.1,238.3 93.3,236.9 93.6,236.4 93.8,236.0 94.0,236.4 94.2,236.6 94.5,236.3 94.7,238.0 94.9,238.5 95.1,238.7 95.4,238.3 95.6,236.5 95.8,237.2 96.0,238.8 96.2,236.5 96.5,236.7 96.7,238.9 96.9,234.2 97.1,238.8 97.4,239.1 97.6,238.5 97.8,237.2 98.0,238.9 98.3,238.5 98.5,237.1 98.7,239.1 98.9,237.4 99.2,238.8 99.4,239.2 99.6,235.4 99.8,237.4 100.1,238.4 100.3,238.4 100.5,238.7 100.7,237.4 101.0,236.2 101.2,239.1" stroke-width="1.8"/>
<path stroke-width="3.4" d="M34.2 148.7h0M34.4 176.7h0M34.6 189.5h0M34.9 199.0h0M35.1 206.2h0M35.3 210.8h0M35.5 213.7h0M35.8 217.6h0M36.0 217.6h0M36.2 221.8h0M36.4 223.3h0M36.7 226.1h0M36.9 225.4h0M37.1 221.3h0M37.3 222.4h0M37.6 223.1h0M37.8 228.3h0M38.0 228.4h0M38.2 224.4h0M38.5 228.3h0M38.7 226.0h0M38.9 230.4h0M39.1 230.4h0M39.4 228.2h0M39.6 225.6h0M39.8 227.0h0M40.0 231.0h0M40.2 225.1h0M40.5 231.1h0M40.7 233.3h0M40.9 227.1h0M41.1 231.2h0M41.4 230.9h0M41.6 220.1h0M41.8 224.0h0M42.0 229.3h0M42.3 227.1h0M42.5 233.0h0M42.7 227.5h0M42.9 232.5h0M43.2 232.7h0M43.4 227.4h0M43.6 233.7h0M43.8 227.5h0M44.1 227.7h0M44.3 227.5h0M44.5 233.7h0M44.7 219.8h0M45.0 228.2h0M45.2 231.9h0M45.4 234.1h0M45.6 228.7h0M45.8 228.3h0M46.1 227.6h0M46.3 233.6h0M46.5 233.1h0M46.7 228.2h0M47.0 233.8h0M47.2 233.1h0M47.4 226.3h0M47.6 232.4h0M47.9 230.3h0M48.1 228.7h0M48.3 229.9h0M48.5 229.9h0M48.8 230.3h0M49.0 234.0h0M49.2 232.6h0M49.4 228.5h0M49.7 228.6h0M49.9 227.9h0M50.1 230.3h0M50.3 228.4h0M50.6 229.4h0M50.8 234.5h0M51.0 230.4h0M51.2 233.5h0M51.4 230.4h0M51.7 233.6h0M51.9 230.0h0M52.1 236.9h0M52.3 229.8h0M52.6 230.5h0M52.8 235.5h0M53.0 231.1h0M53.2 230.8h0M53.5 230.6h0M53.7 233.2h0M53.9 233.4h0M54.1 232.1h0M54.4 234.9h0M54.6 230.0h0M54.8 229.9h0M55.0 234.2h0M55.3 229.9h0M55.5 234.3h0M55.7 242.3h0M55.9 229.3h0M56.2 230.6h0M56.4 234.8h0M56.6 230.7h0M56.8 234.4h0M57.0 235.4h0M57.3 235.1h0M57.5 235.8h0M57.7 231.8h0M57.9 235.2h0M58.2 227.5h0M58.4 234.2h0M58.6 235.5h0M58.8 232.4h0M59.1 231.0h0M59.3 235.2h0M59.5 231.1h0M59.7 235.4h0M60.0 232.5h0M60.2 235.4h0M60.4 231.2h0M60.6 228.2h0M60.9 237.0h0M61.1 230.8h0M61.3 234.9h0M61.5 235.8h0M61.8 232.4h0M62.0 232.4h0M62.2 232.7h0M62.4 232.6h0M62.6 236.5h0M62.9 236.1h0M63.1 233.7h0M63.3 236.5h0M63.5 233.5h0M63.8 232.4h0M64.0 235.8h0M64.2 233.3h0M64.4 236.3h0M64.7 232.9h0M64.9 232.6h0M65.1 232.8h0M65.3 235.2h0M65.6 230.6h0M65.8 236.3h0M66.0 232.6h0M66.2 232.6h0M66.5 233.9h0M66.7 233.2h0M66.9 236.4h0M67.1 233.6h0M67.4 236.8h0M67.6 234.1h0M67.8 237.6h0M68.0 236.7h0M68.2 237.2h0M68.5 239.0h0M68.7 237.0h0M68.9 233.7h0M69.1 230.2h0M69.4 237.0h0M69.6 234.0h0M69.8 233.5h0M70.0 235.9h0M70.3 233.0h0M70.5 233.5h0M70.7 232.1h0M70.9 232.9h0M71.2 233.1h0M71.4 230.5h0M71.6 235.9h0M71.8 234.2h0M72.1 233.8h0M72.3 231.3h0M72.5 233.0h0M72.7 236.5h0M73.0 234.4h0M73.2 237.6h0M73.4 235.6h0M73.6 233.7h0M73.8 236.3h0M74.1 233.5h0M74.3 236.4h0M74.5 236.3h0M74.7 236.4h0M75.0 236.7h0M75.2 234.4h0M75.4 234.2h0M75.6 237.2h0M75.9 237.2h0M76.1 239.4h0M76.3 237.3h0M76.5 235.4h0M76.8 237.7h0M77.0 235.6h0M77.2 236.1h0M77.4 237.5h0M77.7 236.6h0M77.9 236.8h0M78.1 237.4h0M78.3 236.9h0M78.6 235.2h0M78.8 234.8h0M79.0 234.8h0M79.2 235.3h0M79.4 237.1h0M79.7 237.8h0M79.9 235.7h0M80.1 232.5h0M80.3 235.4h0M80.6 237.8h0M80.8 235.9h0M81.0 238.1h0M81.2 237.7h0M81.5 237.3h0M81.7 235.6h0M81.9 237.5h0M82.1 235.9h0M82.4 235.2h0M82.6 235.2h0M82.8 237.0h0M83.0 237.8h0M83.3 236.0h0M83.5 235.7h0M83.7 236.3h0M83.9 233.1h0M84.2 238.2h0M84.4 238.1h0M84.6 238.3h0M84.8 238.5h0M85.0 237.5h0M85.3 235.9h0M85.5 239.8h0M85.7 235.5h0M85.9 237.6h0M86.2 237.5h0M86.4 235.7h0M86.6 236.2h0M86.8 236.7h0M87.1 238.3h0M87.3 238.7h0M87.5 238.7h0M87.7 238.8h0M88.0 238.4h0M88.2 238.7h0M88.4 237.5h0M88.6 239.0h0M88.9 235.6h0M89.1 236.7h0M89.3 236.9h0M89.5 237.4h0M89.8 238.8h0M90.0 236.7h0M90.2 236.6h0M90.4 238.8h0M90.6 236.4h0M90.9 236.2h0M91.1 238.4h0M91.3 238.4h0M91.5 236.4h0M91.8 237.5h0M92.0 238.4h0M92.2 236.5h0M92.4 236.1h0M92.7 236.2h0M92.9 238.3h0M93.1 238.3h0M93.3 236.9h0M93.6 236.4h0M93.8 236.0h0M94.0 236.4h0M94.2 236.6h0M94.5 236.3h0M94.7 238.0h0M94.9 238.5h0M95.1 238.7h0M95.4 238.3h0M95.6 236.5h0M95.8 237.2h0M96.0 238.8h0M96.2 236.5h0M96.5 236.7h0M96.7 238.9h0M96.9 234.2h0M97.1 238.8h0M97.4 239.1h0M97.6 238.5h0M97.8 237.2h0M98.0 238.9h0M98.3 238.5h0M98.5 237.1h0M98.7 239.1h0M98.9 237.4h0M99.2 238.8h0M99.4 239.2h0M99.6 235.4h0M99.8 237.4h0M100.1 238.4h0M100.3 238.4h0M100.5 238.7h0M100.7 237.4h0M101.0 236.2h0M101.2 239.1h0"/>
<polyline points="142.9,189.4 143.1,190.8 143.3,192.5 143.6,203.5 143.8,203.8 144.0,193.6 144.2,184.7 144.5,195.7 144.7,196.8 144.9,206.6 145.1,211.5 145.4,213.3 145.6,215.1 145.8,212.5 146.0,209.6 146.3,229.1 146.5,200.9 146.7,204.5 146.9,208.6 147.2,202.6 147.4,224.2 147.6,225.3 147.8,209.8 148.1,227.2 148.3,227.3 148.5,213.2 148.7,218.0 148.9,203.4 149.2,209.2 149.4,213.8 149.6,216.8 149.8,225.6 150.1,230.2 150.3,227.9 150.5,210.2 150.7,229.1 151.0,225.8 151.2,192.5 151.4,208.2 151.6,230.4 151.9,227.6 152.1,205.4 152.3,215.4 152.5,204.8 152.8,209.4 153.0,235.0 153.2,230.2 153.4,214.6 153.7,217.7 153.9,208.0 154.1,228.2 154.3,216.2 154.5,236.2 154.8,229.7 155.0,232.0 155.2,236.0 155.4,213.2 155.7,230.9 155.9,210.2 156.1,218.4 156.3,217.6 156.6,216.4 156.8,215.2 157.0,235.2 157.2,228.3 157.5,234.5 157.7,231.2 157.9,239.2 158.1,213.6 158.4,242.3 158.6,221.1 158.8,237.9 159.0,211.5 159.3,221.5 159.5,240.3 159.7,216.7 159.9,214.5 160.1,196.2 160.4,221.9 160.6,237.5 160.8,236.5 161.0,214.2 161.3,222.6 161.5,236.7 161.7,215.0 161.9,219.4 162.2,220.9 162.4,230.6 162.6,229.0 162.8,232.5 163.1,235.6 163.3,213.1 163.5,226.8 163.7,221.2 164.0,232.0 164.2,217.2 164.4,237.3 164.6,231.3 164.9,236.9 165.1,235.2 165.3,213.7 165.5,218.2 165.7,227.7 166.0,221.2 166.2,238.4 166.4,228.1 166.6,217.6 166.9,215.2 167.1,226.3 167.3,218.6 167.5,212.5 167.8,209.9 168.0,176.6 168.2,208.4 168.4,226.9 168.7,209.5 168.9,208.1 169.1,223.1 169.3,218.1 169.6,207.0 169.8,223.3 170.0,234.7 170.2,207.4 170.5,213.1 170.7,208.6 170.9,220.7 171.1,221.0 171.3,218.6 171.6,221.0 171.8,218.7 172.0,206.5 172.2,211.5 172.5,218.8 172.7,219.7 172.9,206.6 173.1,216.8 173.4,206.1 173.6,212.8 173.8,186.4 174.0,200.4 174.3,207.3 174.5,209.2 174.7,214.4 174.9,203.9 175.2,213.3 175.4,202.1 175.6,216.3 175.8,210.9 176.1,206.3 176.3,199.5 176.5,212.3 176.7,200.3 176.9,201.6 177.2,200.9 177.4,201.9 177.6,184.9 177.8,209.9 178.1,208.7 178.3,211.4 178.5,212.9 178.7,211.3 179.0,198.3 179.2,199.1 179.4,212.5 179.6,202.3 179.9,207.0 180.1,202.3 180.3,201.1 180.5,209.7 180.8,197.2 181.0,206.1 181.2,200.2 181.4,199.6 181.7,209.0 181.9,209.7 182.1,204.9 182.3,195.8 182.5,194.7 182.8,195.2 183.0,206.4 183.2,192.0 183.4,192.4 183.7,191.0 183.9,195.5 184.1,189.4 184.3,203.2 184.6,203.1 184.8,203.0 185.0,208.0 185.2,200.8 185.5,175.1 185.7,193.0 185.9,202.7 186.1,192.3 186.4,201.1 186.6,190.5 186.8,201.9 187.0,198.6 187.3,186.8 187.5,191.7 187.7,187.3 187.9,188.8 188.1,189.1 188.4,197.7 188.6,188.9 188.8,198.2 189.0,185.1 189.3,165.3 189.5,183.9 189.7,196.7 189.9,193.4 190.2,193.3 190.4,195.0 190.6,184.6 190.8,181.9 191.1,190.9 191.3,179.8 191.5,179.7 191.7,190.7 192.0,178.9 192.2,177.4 192.4,189.0 192.6,180.9 192.9,179.9 193.1,180.3 193.3,189.8 193.5,179.4 193.7,195.0 194.0,177.2 194.2,177.2 194.4,186.4 194.6,177.7 194.9,176.0 195.1,175.7 195.3,187.4 195.5,188.4 195.8,177.8 196.0,186.4 196.2,178.9 196.4,174.4 196.7,183.9 196.9,159.2 197.1,181.9 197.3,176.0 197.6,185.2 197.8,181.8 198.0,183.9 198.2,174.0 198.5,171.7 198.7,179.9 198.9,179.4 199.1,174.1 199.3,180.2 199.6,179.3 199.8,177.9 200.0,175.4 200.2,179.1 200.5,161.8 200.7,169.6 200.9,175.5 201.1,177.0 201.4,165.7 201.6,175.4 201.8,174.9 202.0,174.4 202.3,174.3 202.5,162.1 202.7,171.7 202.9,170.9 203.2,154.3 203.4,163.4 203.6,171.2 203.8,168.2 204.1,160.5 204.3,169.2 204.5,162.2 204.7,171.9 204.9,161.9 205.2,161.1 205.4,160.1 205.6,160.8 205.8,166.4 206.1,168.3 206.3,160.5 206.5,156.3 206.7,164.8 207.0,163.6 207.2,157.6 207.4,154.5 207.6,153.0 207.9,163.3 208.1,162.4 208.3,152.4 208.5,153.3 208.8,151.8 209.0,148.9 209.2,147.9 209.4,148.6 209.7,148.5 209.9,161.2" stroke-width="1.8"/>
<path stroke-width="3.4" d="M142.9 189.4h0M143.1 190.8h0M143.3 192.5h0M143.6 203.5h0M143.8 203.8h0M144.0 193.6h0M144.2 184.7h0M144.5 195.7h0M144.7 196.8h0M144.9 206.6h0M145.1 211.5h0M145.4 213.3h0M145.6 215.1h0M145.8 212.5h0M146.0 209.6h0M146.3 229.1h0M146.5 200.9h0M146.7 204.5h0M146.9 208.6h0M147.2 202.6h0M147.4 224.2h0M147.6 225.3h0M147.8 209.8h0M148.1 227.2h0M148.3 227.3h0M148.5 213.2h0M148.7 218.0h0M148.9 203.4h0M149.2 209.2h0M149.4 213.8h0M149.6 216.8h0M149.8 225.6h0M150.1 230.2h0M150.3 227.9h0M150.5 210.2h0M150.7 229.1h0M151.0 225.8h0M151.2 192.5h0M151.4 208.2h0M151.6 230.4h0M151.9 227.6h0M152.1 205.4h0M152.3 215.4h0M152.5 204.8h0M152.8 209.4h0M153.0 235.0h0M153.2 230.2h0M153.4 214.6h0M153.7 217.7h0M153.9 208.0h0M154.1 228.2h0M154.3 216.2h0M154.5 236.2h0M154.8 229.7h0M155.0 232.0h0M155.2 236.0h0M155.4 213.2h0M155.7 230.9h0M155.9 210.2h0M156.1 218.4h0M156.3 217.6h0M156.6 216.4h0M156.8 215.2h0M157.0 235.2h0M157.2 228.3h0M157.5 234.5h0M157.7 231.2h0M157.9 239.2h0M158.1 213.6h0M158.4 242.3h0M158.6 221.1h0M158.8 237.9h0M159.0 211.5h0M159.3 221.5h0M159.5 240.3h0M159.7 216.7h0M159.9 214.5h0M160.1 196.2h0M160.4 221.9h0M160.6 237.5h0M160.8 236.5h0M161.0 214.2h0M161.3 222.6h0M161.5 236.7h0M161.7 215.0h0M161.9 219.4h0M162.2 220.9h0M162.4 230.6h0M162.6 229.0h0M162.8 232.5h0M163.1 235.6h0M163.3 213.1h0M163.5 226.8h0M163.7 221.2h0M164.0 232.0h0M164.2 217.2h0M164.4 237.3h0M164.6 231.3h0M164.9 236.9h0M165.1 235.2h0M165.3 213.7h0M165.5 218.2h0M165.7 227.7h0M166.0 221.2h0M166.2 238.4h0M166.4 228.1h0M166.6 217.6h0M166.9 215.2h0M167.1 226.3h0M167.3 218.6h0M167.5 212.5h0M167.8 209.9h0M168.0 176.6h0M168.2 208.4h0M168.4 226.9h0M168.7 209.5h0M168.9 208.1h0M169.1 223.1h0M169.3 218.1h0M169.6 207.0h0M169.8 223.3h0M170.0 234.7h0M170.2 207.4h0M170.5 213.1h0M170.7 208.6h0M170.9 220.7h0M171.1 221.0h0M171.3 218.6h0M171.6 221.0h0M171.8 218.7h0M172.0 206.5h0M172.2 211.5h0M172.5 218.8h0M172.7 219.7h0M172.9 206.6h0M173.1 216.8h0M173.4 206.1h0M173.6 212.8h0M173.8 186.4h0M174.0 200.4h0M174.3 207.3h0M174.5 209.2h0M174.7 214.4h0M174.9 203.9h0M175.2 213.3h0M175.4 202.1h0M175.6 216.3h0M175.8 210.9h0M176.1 206.3h0M176.3 199.5h0M176.5 212.3h0M176.7 200.3h0M176.9 201.6h0M177.2 200.9h0M177.4 201.9h0M177.6 184.9h0M177.8 209.9h0M178.1 208.7h0M178.3 211.4h0M178.5 212.9h0M178.7 211.3h0M179.0 198.3h0M179.2 199.1h0M179.4 212.5h0M179.6 202.3h0M179.9 207.0h0M180.1 202.3h0M180.3 201.1h0M180.5 209.7h0M180.8 197.2h0M181.0 206.1h0M181.2 200.2h0M181.4 199.6h0M181.7 209.0h0M181.9 209.7h0M182.1 204.9h0M182.3 195.8h0M182.5 194.7h0M182.8 195.2h0M183.0 206.4h0M183.2 192.0h0M183.4 192.4h0M183.7 191.0h0M183.9 195.5h0M184.1 189.4h0M184.3 203.2h0M184.6 203.1h0M184.8 203.0h0M185.0 208.0h0M185.2 200.8h0M185.5 175.1h0M185.7 193.0h0M185.9 202.7h0M186.1 192.3h0M186.4 201.1h0M186.6 190.5h0M186.8 201.9h0M187.0 198.6h0M187.3 186.8h0M187.5 191.7h0M187.7 187.3h0M187.9 188.8h0M188.1 189.1h0M188.4 197.7h0M188.6 188.9h0M188.8 198.2h0M189.0 185.1h0M189.3 165.3h0M189.5 183.9h0M189.7 196.7h0M189.9 193.4h0M190.2 193.3h0M190.4 195.0h0M190.6 184.6h0M190.8 181.9h0M191.1 190.9h0M191.3 179.8h0M191.5 179.7h0M191.7 190.7h0M192.0 178.9h0M192.2 177.4h0M192.4 189.0h0M192.6 180.9h0M192.9 179.9h0M193.1 180.3h0M193.3 189.8h0M193.5 179.4h0M193.7 195.0h0M194.0 177.2h0M194.2 177.2h0M194.4 186.4h0M194.6 177.7h0M194.9 176.0h0M195.1 175.7h0M195.3 187.4h0M195.5 188.4h0M195.8 177.8h0M196.0 186.4h0M196.2 178.9h0M196.4 174.4h0M196.7 183.9h0M196.9 159.2h0M197.1 181.9h0M197.3 176.0h0M197.6 185.2h0M197.8 181.8h0M198.0 183.9h0M198.2 174.0h0M198.5 171.7h0M198.7 179.9h0M198.9 179.4h0M199.1 174.1h0M199.3 180.2h0M199.6 179.3h0M199.8 177.9h0M200.0 175.4h0M200.2 179.1h0M200.5 161.8h0M200.7 169.6h0M200.9 175.5h0M201.1 177.0h0M201.4 165.7h0M201.6 175.4h0M201.8 174.9h0M202.0 174.4h0M202.3 174.3h0M202.5 162.1h0M202.7 171.7h0M202.9 170.9h0M203.2 154.3h0M203.4 163.4h0M203.6 171.2h0M203.8 168.2h0M204.1 160.5h0M204.3 169.2h0M204.5 162.2h0M204.7 171.9h0M204.9 161.9h0M205.2 161.1h0M205.4 160.1h0M205.6 160.8h0M205.8 166.4h0M206.1 168.3h0M206.3 160.5h0M206.5 156.3h0M206.7 164.8h0M207.0 163.6h0M207.2 157.6h0M207.4 154.5h0M207.6 153.0h0M207.9 163.3h0M208.1 162.4h0M208.3 152.4h0M208.5 153.3h0M208.8 151.8h0M209.0 148.9h0M209.2 147.9h0M209.4 148.6h0M209.7 148.5h0M209.9 161.2h0"/>
<polyline points="251.6,148.8 251.8,173.4 252.0,187.4 252.3,202.5 252.5,212.8 252.7,220.5 252.9,226.0 253.2,230.0 253.4,234.5 253.6,236.2 253.8,237.3 254.1,237.9 254.3,238.4 254.5,238.7 254.7,238.6 255.0,239.1 255.2,239.3 255.4,239.1 255.6,239.2 255.9,239.3 256.1,239.2 256.3,240.0 256.5,239.9 256.8,240.1 257.0,240.3 257.2,240.3 257.4,240.2 257.6,240.3 257.9,240.0 258.1,240.3 258.3,240.1 258.5,240.6 258.8,240.7 259.0,240.7 259.2,240.9 259.4,240.8 259.7,240.7 259.9,240.4 260.1,240.4 260.3,241.1 260.6,240.4 260.8,240.6 261.0,240.5 261.2,241.2 261.5,241.1 261.7,240.9 261.9,240.7 262.1,241.2 262.4,241.1 262.6,241.3 262.8,241.2 263.0,241.0 263.2,240.9 263.5,240.9 263.7,241.4 263.9,241.0 264.1,241.5 264.4,241.0 264.6,241.3 264.8,241.6 265.0,241.5 265.3,241.6 265.5,241.5 265.7,241.5 265.9,241.4 266.2,241.7 266.4,241.1 266.6,241.6 266.8,241.6 267.1,241.1 267.3,241.3 267.5,241.2 267.7,241.4 268.0,241.7 268.2,241.8 268.4,241.7 268.6,241.7 268.8,241.7 269.1,241.5 269.3,241.1 269.5,241.2 269.7,241.7 270.0,241.7 270.2,241.2 270.4,241.1 270.6,241.3 270.9,241.7 271.1,241.6 271.3,241.8 271.5,241.7 271.8,241.2 272.0,241.8 272.2,241.7 272.4,241.4 272.7,241.3 272.9,241.4 273.1,241.7 273.3,241.4 273.6,241.9 273.8,241.9 274.0,241.4 274.2,241.7 274.4,241.3 274.7,241.9 274.9,242.0 275.1,241.6 275.3,241.5 275.6,241.4 275.8,241.5 276.0,242.0 276.2,241.6 276.5,241.8 276.7,241.9 276.9,241.4 277.1,241.5 277.4,241.4 277.6,241.6 277.8,241.5 278.0,241.5 278.3,242.0 278.5,241.6 278.7,241.4 278.9,241.9 279.2,242.0 279.4,242.1 279.6,242.0 279.8,241.9 280.0,242.1 280.3,241.6 280.5,241.5 280.7,241.5 280.9,241.5 281.2,241.9 281.4,241.5 281.6,241.5 281.8,242.0 282.1,242.1 282.3,242.0 282.5,241.5 282.7,241.9 283.0,241.5 283.2,242.0 283.4,241.6 283.6,242.0 283.9,241.6 284.1,241.8 284.3,241.5 284.5,241.6 284.8,241.5 285.0,242.0 285.2,242.0 285.4,241.6 285.6,241.6 285.9,241.9 286.1,242.1 286.3,242.0 286.5,241.5 286.8,242.0 287.0,242.0 287.2,241.8 287.4,242.1 287.7,242.1 287.9,241.6 288.1,241.9 288.3,242.0 288.6,241.6 288.8,242.0 289.0,241.6 289.2,241.6 289.5,242.1 289.7,242.1 289.9,241.6 290.1,242.1 290.4,242.1 290.6,241.6 290.8,241.7 291.0,241.6 291.2,241.6 291.5,241.6 291.7,242.1 291.9,241.8 292.1,242.0 292.4,242.1 292.6,241.9 292.8,241.6 293.0,241.6 293.3,241.8 293.5,241.8 293.7,241.6 293.9,241.7 294.2,241.6 294.4,241.9 294.6,241.6 294.8,241.7 295.1,241.9 295.3,242.1 295.5,241.6 295.7,242.1 296.0,242.1 296.2,242.1 296.4,241.7 296.6,241.7 296.8,242.1 297.1,242.1 297.3,242.1 297.5,241.7 297.7,242.0 298.0,241.7 298.2,241.6 298.4,241.7 298.6,241.9 298.9,241.6 299.1,242.0 299.3,241.7 299.5,242.1 299.8,242.0 300.0,241.7 300.2,241.7 300.4,242.0 300.7,241.9 300.9,241.7 301.1,241.7 301.3,241.7 301.6,241.6 301.8,242.1 302.0,242.0 302.2,241.7 302.4,241.7 302.7,241.7 302.9,241.9 303.1,241.7 303.3,241.8 303.6,242.1 303.8,241.6 304.0,242.0 304.2,242.1 304.5,242.0 304.7,242.0 304.9,242.1 305.1,241.6 305.4,242.0 305.6,241.8 305.8,241.8 306.0,241.6 306.3,241.8 306.5,242.0 306.7,241.9 306.9,242.0 307.2,241.7 307.4,241.7 307.6,242.1 307.8,242.1 308.0,241.7 308.3,241.8 308.5,241.7 308.7,242.0 308.9,242.1 309.2,241.7 309.4,242.1 309.6,241.7 309.8,241.7 310.1,241.7 310.3,242.0 310.5,242.1 310.7,242.1 311.0,242.0 311.2,241.7 311.4,242.0 311.6,241.9 311.9,242.1 312.1,241.8 312.3,241.7 312.5,242.0 312.8,241.9 313.0,242.1 313.2,242.0 313.4,242.1 313.6,242.0 313.9,241.7 314.1,241.8 314.3,241.8 314.5,242.0 314.8,241.9 315.0,241.8 315.2,242.1 315.4,241.8 315.7,242.1 315.9,242.0 316.1,242.1 316.3,242.0 316.6,241.8 316.8,242.0 317.0,241.9 317.2,241.8 317.5,241.7 317.7,241.8 317.9,242.0 318.1,242.1 318.4,241.8 318.6,241.9" stroke-width="1.8"/>
<path stroke-width="3.4" d="M251.6 148.8h0M251.8 173.4h0M252.0 187.4h0M252.3 202.5h0M252.5 212.8h0M252.7 220.5h0M252.9 226.0h0M253.2 230.0h0M253.4 234.5h0M253.6 236.2h0M253.8 237.3h0M254.1 237.9h0M254.3 238.4h0M254.5 238.7h0M254.7 238.6h0M255.0 239.1h0M255.2 239.3h0M255.4 239.1h0M255.6 239.2h0M255.9 239.3h0M256.1 239.2h0M256.3 240.0h0M256.5 239.9h0M256.8 240.1h0M257.0 240.3h0M257.2 240.3h0M257.4 240.2h0M257.6 240.3h0M257.9 240.0h0M258.1 240.3h0M258.3 240.1h0M258.5 240.6h0M258.8 240.7h0M259.0 240.7h0M259.2 240.9h0M259.4 240.8h0M259.7 240.7h0M259.9 240.4h0M260.1 240.4h0M260.3 241.1h0M260.6 240.4h0M260.8 240.6h0M261.0 240.5h0M261.2 241.2h0M261.5 241.1h0M261.7 240.9h0M261.9 240.7h0M262.1 241.2h0M262.4 241.1h0M262.6 241.3h0M262.8 241.2h0M263.0 241.0h0M263.2 240.9h0M263.5 240.9h0M263.7 241.4h0M263.9 241.0h0M264.1 241.5h0M264.4 241.0h0M264.6 241.3h0M264.8 241.6h0M265.0 241.5h0M265.3 241.6h0M265.5 241.5h0M265.7 241.5h0M265.9 241.4h0M266.2 241.7h0M266.4 241.1h0M266.6 241.6h0M266.8 241.6h0M267.1 241.1h0M267.3 241.3h0M267.5 241.2h0M267.7 241.4h0M268.0 241.7h0M268.2 241.8h0M268.4 241.7h0M268.6 241.7h0M268.8 241.7h0M269.1 241.5h0M269.3 241.1h0M269.5 241.2h0M269.7 241.7h0M270.0 241.7h0M270.2 241.2h0M270.4 241.1h0M270.6 241.3h0M270.9 241.7h0M271.1 241.6h0M271.3 241.8h0M271.5 241.7h0M271.8 241.2h0M272.0 241.8h0M272.2 241.7h0M272.4 241.4h0M272.7 241.3h0M272.9 241.4h0M273.1 241.7h0M273.3 241.4h0M273.6 241.9h0M273.8 241.9h0M274.0 241.4h0M274.2 241.7h0M274.4 241.3h0M274.7 241.9h0M274.9 242.0h0M275.1 241.6h0M275.3 241.5h0M275.6 241.4h0M275.8 241.5h0M276.0 242.0h0M276.2 241.6h0M276.5 241.8h0M276.7 241.9h0M276.9 241.4h0M277.1 241.5h0M277.4 241.4h0M277.6 241.6h0M277.8 241.5h0M278.0 241.5h0M278.3 242.0h0M278.5 241.6h0M278.7 241.4h0M278.9 241.9h0M279.2 242.0h0M279.4 242.1h0M279.6 242.0h0M279.8 241.9h0M280.0 242.1h0M280.3 241.6h0M280.5 241.5h0M280.7 241.5h0M280.9 241.5h0M281.2 241.9h0M281.4 241.5h0M281.6 241.5h0M281.8 242.0h0M282.1 242.1h0M282.3 242.0h0M282.5 241.5h0M282.7 241.9h0M283.0 241.5h0M283.2 242.0h0M283.4 241.6h0M283.6 242.0h0M283.9 241.6h0M284.1 241.8h0M284.3 241.5h0M284.5 241.6h0M284.8 241.5h0M285.0 242.0h0M285.2 242.0h0M285.4 241.6h0M285.6 241.6h0M285.9 241.9h0M286.1 242.1h0M286.3 242.0h0M286.5 241.5h0M286.8 242.0h0M287.0 242.0h0M287.2 241.8h0M287.4 242.1h0M287.7 242.1h0M287.9 241.6h0M288.1 241.9h0M288.3 242.0h0M288.6 241.6h0M288.8 242.0h0M289.0 241.6h0M289.2 241.6h0M289.5 242.1h0M289.7 242.1h0M289.9 241.6h0M290.1 242.1h0M290.4 242.1h0M290.6 241.6h0M290.8 241.7h0M291.0 241.6h0M291.2 241.6h0M291.5 241.6h0M291.7 242.1h0M291.9 241.8h0M292.1 242.0h0M292.4 242.1h0M292.6 241.9h0M292.8 241.6h0M293.0 241.6h0M293.3 241.8h0M293.5 241.8h0M293.7 241.6h0M293.9 241.7h0M294.2 241.6h0M294.4 241.9h0M294.6 241.6h0M294.8 241.7h0M295.1 241.9h0M295.3 242.1h0M295.5 241.6h0M295.7 242.1h0M296.0 242.1h0M296.2 242.1h0M296.4 241.7h0M296.6 241.7h0M296.8 242.1h0M297.1 242.1h0M297.3 242.1h0M297.5 241.7h0M297.7 242.0h0M298.0 241.7h0M298.2 241.6h0M298.4 241.7h0M298.6 241.9h0M298.9 241.6h0M299.1 242.0h0M299.3 241.7h0M299.5 242.1h0M299.8 242.0h0M300.0 241.7h0M300.2 241.7h0M300.4 242.0h0M300.7 241.9h0M300.9 241.7h0M301.1 241.7h0M301.3 241.7h0M301.6 241.6h0M301.8 242.1h0M302.0 242.0h0M302.2 241.7h0M302.4 241.7h0M302.7 241.7h0M302.9 241.9h0M303.1 241.7h0M303.3 241.8h0M303.6 242.1h0M303.8 241.6h0M304.0 242.0h0M304.2 242.1h0M304.5 242.0h0M304.7 242.0h0M304.9 242.1h0M305.1 241.6h0M305.4 242.0h0M305.6 241.8h0M305.8 241.8h0M306.0 241.6h0M306.3 241.8h0M306.5 242.0h0M306.7 241.9h0M306.9 242.0h0M307.2 241.7h0M307.4 241.7h0M307.6 242.1h0M307.8 242.1h0M308.0 241.7h0M308.3 241.8h0M308.5 241.7h0M308.7 242.0h0M308.9 242.1h0M309.2 241.7h0M309.4 242.1h0M309.6 241.7h0M309.8 241.7h0M310.1 241.7h0M310.3 242.0h0M310.5 242.1h0M310.7 242.1h0M311.0 242.0h0M311.2 241.7h0M311.4 242.0h0M311.6 241.9h0M311.9 242.1h0M312.1 241.8h0M312.3 241.7h0M312.5 242.0h0M312.8 241.9h0M313.0 242.1h0M313.2 242.0h0M313.4 242.1h0M313.6 242.0h0M313.9 241.7h0M314.1 241.8h0M314.3 241.8h0M314.5 242.0h0M314.8 241.9h0M315.0 241.8h0M315.2 242.1h0M315.4 241.8h0M315.7 242.1h0M315.9 242.0h0M316.1 242.1h0M316.3 242.0h0M316.6 241.8h0M316.8 242.0h0M317.0 241.9h0M317.2 241.8h0M317.5 241.7h0M317.7 241.8h0M317.9 242.0h0M318.1 242.1h0M318.4 241.8h0M318.6 241.9h0"/>
<polyline points="360.2,241.2 360.4,241.4 360.6,240.2 360.9,239.4 361.1,239.0 361.3,238.2 361.5,237.8 361.8,237.3 362.0,240.1 362.2,238.9 362.4,238.4 362.7,240.1 362.9,240.3 363.1,235.4 363.3,234.4 363.6,234.6 363.8,238.3 364.0,233.6 364.2,237.3 364.5,231.7 364.7,236.1 364.9,229.5 365.1,227.4 365.4,226.5 365.6,226.3 365.8,225.4 366.0,226.3 366.2,227.6 366.5,223.5 366.7,233.9 366.9,231.0 367.1,224.7 367.4,228.2 367.6,221.2 367.8,231.3 368.0,232.2 368.3,231.2 368.5,216.6 368.7,230.4 368.9,228.9 369.2,226.1 369.4,217.3 369.6,213.9 369.8,227.8 370.1,202.4 370.3,210.4 370.5,221.6 370.7,222.7 371.0,209.7 371.2,208.7 371.4,219.0 371.6,219.9 371.8,202.7 372.1,203.6 372.3,200.7 372.5,217.5 372.7,200.6 373.0,218.9 373.2,219.4 373.4,216.0 373.6,196.2 373.9,201.4 374.1,197.9 374.3,197.7 374.5,195.7 374.8,208.5 375.0,184.2 375.2,212.8 375.4,205.6 375.7,211.5 375.9,210.0 376.1,186.8 376.3,192.7 376.6,188.0 376.8,191.7 377.0,192.2 377.2,186.1 377.4,179.5 377.7,192.8 377.9,189.3 378.1,187.7 378.3,198.4 378.6,182.6 378.8,194.5 379.0,180.8 379.2,189.1 379.5,176.7 379.7,177.2 379.9,198.3 380.1,212.2 380.4,171.9 380.6,192.2 380.8,175.3 381.0,173.4 381.3,186.1 381.5,198.2 381.7,207.1 381.9,175.4 382.2,195.3 382.4,197.2 382.6,211.4 382.8,183.9 383.0,199.3 383.3,195.4 383.5,194.2 383.7,178.0 383.9,178.1 384.2,179.5 384.4,188.3 384.6,186.1 384.8,179.0 385.1,202.8 385.3,173.4 385.5,168.8 385.7,163.4 386.0,167.6 386.2,178.6 386.4,163.8 386.6,225.3 386.9,164.7 387.1,177.6 387.3,180.4 387.5,167.2 387.8,172.6 388.0,167.6 388.2,184.5 388.4,173.4 388.6,169.7 388.9,185.6 389.1,165.9 389.3,185.9 389.5,186.1 389.8,183.4 390.0,164.6 390.2,177.6 390.4,188.1 390.7,185.7 390.9,171.7 391.1,188.2 391.3,183.5 391.6,185.5 391.8,168.2 392.0,186.1 392.2,181.2 392.5,178.2 392.7,206.0 392.9,178.7 393.1,183.6 393.4,149.4 393.6,178.0 393.8,167.4 394.0,181.7 394.2,175.0 394.5,163.5 394.7,174.0 394.9,157.0 395.1,173.6 395.4,156.8 395.6,173.1 395.8,171.1 396.0,158.7 396.3,182.3 396.5,155.4 396.7,156.4 396.9,174.4 397.2,189.5 397.4,161.8 397.6,159.3 397.8,177.9 398.1,157.6 398.3,173.3 398.5,196.3 398.7,174.2 399.0,157.8 399.2,173.4 399.4,175.1 399.6,160.6 399.8,154.8 400.1,171.1 400.3,163.2 400.5,169.3 400.7,154.3 401.0,155.4 401.2,165.9 401.4,153.9 401.6,172.3 401.9,148.1 402.1,188.6 402.3,156.7 402.5,157.8 402.8,168.3 403.0,154.7 403.2,154.2 403.4,155.9 403.7,167.2 403.9,182.5 404.1,170.6 404.3,171.5 404.6,172.2 404.8,154.5 405.0,152.0 405.2,168.1 405.4,155.5 405.7,169.0 405.9,155.4 406.1,171.2 406.3,161.8 406.6,156.2 406.8,153.9 407.0,157.8 407.2,157.2 407.5,166.5 407.7,170.0 407.9,154.4 408.1,182.7 408.4,180.1 408.6,167.2 408.8,148.7 409.0,169.3 409.3,149.7 409.5,166.8 409.7,169.4 409.9,150.2 410.2,154.2 410.4,155.3 410.6,163.7 410.8,166.1 411.0,152.2 411.3,160.3 411.5,156.1 411.7,153.7 411.9,160.2 412.2,156.7 412.4,163.6 412.6,173.7 412.8,153.9 413.1,176.9 413.3,173.5 413.5,166.5 413.7,164.9 414.0,155.2 414.2,168.4 414.4,152.7 414.6,170.5 414.9,153.8 415.1,168.4 415.3,178.7 415.5,168.8 415.8,156.9 416.0,161.4 416.2,177.0 416.4,160.5 416.6,153.5 416.9,154.0 417.1,166.8 417.3,167.4 417.5,152.9 417.8,168.6 418.0,169.0 418.2,156.6 418.4,168.1 418.7,170.1 418.9,157.1 419.1,183.4 419.3,167.6 419.6,174.0 419.8,151.0 420.0,173.7 420.2,162.6 420.5,168.8 420.7,160.2 420.9,167.4 421.1,159.0 421.4,168.8 421.6,166.9 421.8,178.2 422.0,166.6 422.2,155.9 422.5,158.0 422.7,170.1 422.9,165.4 423.1,162.2 423.4,165.5 423.6,170.8 423.8,169.9 424.0,159.7 424.3,162.6 424.5,169.2 424.7,168.4 424.9,168.7 425.2,155.5 425.4,164.2 425.6,159.6 425.8,174.7 426.1,163.3 426.3,174.2 426.5,174.0 426.7,159.3 427.0,178.9 427.2,157.5" stroke-width="1.8"/>
<path stroke-width="3.4" d="M360.2 241.2h0M360.4 241.4h0M360.6 240.2h0M360.9 239.4h0M361.1 239.0h0M361.3 238.2h0M361.5 237.8h0M361.8 237.3h0M362.0 240.1h0M362.2 238.9h0M362.4 238.4h0M362.7 240.1h0M362.9 240.3h0M363.1 235.4h0M363.3 234.4h0M363.6 234.6h0M363.8 238.3h0M364.0 233.6h0M364.2 237.3h0M364.5 231.7h0M364.7 236.1h0M364.9 229.5h0M365.1 227.4h0M365.4 226.5h0M365.6 226.3h0M365.8 225.4h0M366.0 226.3h0M366.2 227.6h0M366.5 223.5h0M366.7 233.9h0M366.9 231.0h0M367.1 224.7h0M367.4 228.2h0M367.6 221.2h0M367.8 231.3h0M368.0 232.2h0M368.3 231.2h0M368.5 216.6h0M368.7 230.4h0M368.9 228.9h0M369.2 226.1h0M369.4 217.3h0M369.6 213.9h0M369.8 227.8h0M370.1 202.4h0M370.3 210.4h0M370.5 221.6h0M370.7 222.7h0M371.0 209.7h0M371.2 208.7h0M371.4 219.0h0M371.6 219.9h0M371.8 202.7h0M372.1 203.6h0M372.3 200.7h0M372.5 217.5h0M372.7 200.6h0M373.0 218.9h0M373.2 219.4h0M373.4 216.0h0M373.6 196.2h0M373.9 201.4h0M374.1 197.9h0M374.3 197.7h0M374.5 195.7h0M374.8 208.5h0M375.0 184.2h0M375.2 212.8h0M375.4 205.6h0M375.7 211.5h0M375.9 210.0h0M376.1 186.8h0M376.3 192.7h0M376.6 188.0h0M376.8 191.7h0M377.0 192.2h0M377.2 186.1h0M377.4 179.5h0M377.7 192.8h0M377.9 189.3h0M378.1 187.7h0M378.3 198.4h0M378.6 182.6h0M378.8 194.5h0M379.0 180.8h0M379.2 189.1h0M379.5 176.7h0M379.7 177.2h0M379.9 198.3h0M380.1 212.2h0M380.4 171.9h0M380.6 192.2h0M380.8 175.3h0M381.0 173.4h0M381.3 186.1h0M381.5 198.2h0M381.7 207.1h0M381.9 175.4h0M382.2 195.3h0M382.4 197.2h0M382.6 211.4h0M382.8 183.9h0M383.0 199.3h0M383.3 195.4h0M383.5 194.2h0M383.7 178.0h0M383.9 178.1h0M384.2 179.5h0M384.4 188.3h0M384.6 186.1h0M384.8 179.0h0M385.1 202.8h0M385.3 173.4h0M385.5 168.8h0M385.7 163.4h0M386.0 167.6h0M386.2 178.6h0M386.4 163.8h0M386.6 225.3h0M386.9 164.7h0M387.1 177.6h0M387.3 180.4h0M387.5 167.2h0M387.8 172.6h0M388.0 167.6h0M388.2 184.5h0M388.4 173.4h0M388.6 169.7h0M388.9 185.6h0M389.1 165.9h0M389.3 185.9h0M389.5 186.1h0M389.8 183.4h0M390.0 164.6h0M390.2 177.6h0M390.4 188.1h0M390.7 185.7h0M390.9 171.7h0M391.1 188.2h0M391.3 183.5h0M391.6 185.5h0M391.8 168.2h0M392.0 186.1h0M392.2 181.2h0M392.5 178.2h0M392.7 206.0h0M392.9 178.7h0M393.1 183.6h0M393.4 149.4h0M393.6 178.0h0M393.8 167.4h0M394.0 181.7h0M394.2 175.0h0M394.5 163.5h0M394.7 174.0h0M394.9 157.0h0M395.1 173.6h0M395.4 156.8h0M395.6 173.1h0M395.8 171.1h0M396.0 158.7h0M396.3 182.3h0M396.5 155.4h0M396.7 156.4h0M396.9 174.4h0M397.2 189.5h0M397.4 161.8h0M397.6 159.3h0M397.8 177.9h0M398.1 157.6h0M398.3 173.3h0M398.5 196.3h0M398.7 174.2h0M399.0 157.8h0M399.2 173.4h0M399.4 175.1h0M399.6 160.6h0M399.8 154.8h0M400.1 171.1h0M400.3 163.2h0M400.5 169.3h0M400.7 154.3h0M401.0 155.4h0M401.2 165.9h0M401.4 153.9h0M401.6 172.3h0M401.9 148.1h0M402.1 188.6h0M402.3 156.7h0M402.5 157.8h0M402.8 168.3h0M403.0 154.7h0M403.2 154.2h0M403.4 155.9h0M403.7 167.2h0M403.9 182.5h0M404.1 170.6h0M404.3 171.5h0M404.6 172.2h0M404.8 154.5h0M405.0 152.0h0M405.2 168.1h0M405.4 155.5h0M405.7 169.0h0M405.9 155.4h0M406.1 171.2h0M406.3 161.8h0M406.6 156.2h0M406.8 153.9h0M407.0 157.8h0M407.2 157.2h0M407.5 166.5h0M407.7 170.0h0M407.9 154.4h0M408.1 182.7h0M408.4 180.1h0M408.6 167.2h0M408.8 148.7h0M409.0 169.3h0M409.3 149.7h0M409.5 166.8h0M409.7 169.4h0M409.9 150.2h0M410.2 154.2h0M410.4 155.3h0M410.6 163.7h0M410.8 166.1h0M411.0 152.2h0M411.3 160.3h0M411.5 156.1h0M411.7 153.7h0M411.9 160.2h0M412.2 156.7h0M412.4 163.6h0M412.6 173.7h0M412.8 153.9h0M413.1 176.9h0M413.3 173.5h0M413.5 166.5h0M413.7 164.9h0M414.0 155.2h0M414.2 168.4h0M414.4 152.7h0M414.6 170.5h0M414.9 153.8h0M415.1 168.4h0M415.3 178.7h0M415.5 168.8h0M415.8 156.9h0M416.0 161.4h0M416.2 177.0h0M416.4 160.5h0M416.6 153.5h0M416.9 154.0h0M417.1 166.8h0M417.3 167.4h0M417.5 152.9h0M417.8 168.6h0M418.0 169.0h0M418.2 156.6h0M418.4 168.1h0M418.7 170.1h0M418.9 157.1h0M419.1 183.4h0M419.3 167.6h0M419.6 174.0h0M419.8 151.0h0M420.0 173.7h0M420.2 162.6h0M420.5 168.8h0M420.7 160.2h0M420.9 167.4h0M421.1 159.0h0M421.4 168.8h0M421.6 166.9h0M421.8 178.2h0M422.0 166.6h0M422.2 155.9h0M422.5 158.0h0M422.7 170.1h0M422.9 165.4h0M423.1 162.2h0M423.4 165.5h0M423.6 170.8h0M423.8 169.9h0M424.0 159.7h0M424.3 162.6h0M424.5 169.2h0M424.7 168.4h0M424.9 168.7h0M425.2 155.5h0M425.4 164.2h0M425.6 159.6h0M425.8 174.7h0M426.1 163.3h0M426.3 174.2h0M426.5 174.0h0M426.7 159.3h0M427.0 178.9h0M427.2 157.5h0"/>
<polyline points="468.9,241.1 469.1,241.7 469.3,240.1 469.6,240.9 469.8,239.7 470.0,240.4 470.2,238.6 470.5,238.0 470.7,239.2 470.9,237.3 471.1,237.2 471.4,239.0 471.6,237.4 471.8,236.7 472.0,236.3 472.3,235.8 472.5,239.0 472.7,235.9 472.9,238.9 473.2,234.8 473.4,238.2 473.6,234.1 473.8,237.3 474.1,232.7 474.3,234.3 474.5,236.0 474.7,235.8 474.9,232.2 475.2,235.0 475.4,230.9 475.6,235.4 475.8,234.7 476.1,228.1 476.3,229.2 476.5,233.8 476.7,234.3 477.0,234.1 477.2,233.0 477.4,231.2 477.6,224.3 477.9,221.5 478.1,221.2 478.3,230.0 478.5,231.8 478.8,226.6 479.0,226.4 479.2,219.7 479.4,226.6 479.7,216.8 479.9,229.6 480.1,227.5 480.3,211.6 480.5,207.4 480.8,208.7 481.0,206.7 481.2,206.0 481.4,216.9 481.7,203.8 481.9,206.0 482.1,212.6 482.3,216.1 482.6,195.3 482.8,217.6 483.0,194.0 483.2,192.0 483.5,208.1 483.7,191.6 483.9,209.7 484.1,199.3 484.4,197.2 484.6,211.8 484.8,208.1 485.0,226.2 485.3,202.8 485.5,217.4 485.7,224.1 485.9,194.5 486.1,200.6 486.4,194.8 486.6,205.0 486.8,208.3 487.0,204.9 487.3,186.3 487.5,224.4 487.7,186.1 487.9,204.3 488.2,206.4 488.4,195.7 488.6,202.0 488.8,208.1 489.1,217.4 489.3,181.2 489.5,173.1 489.7,173.2 490.0,203.6 490.2,173.3 490.4,179.3 490.6,187.2 490.9,206.1 491.1,205.3 491.3,195.8 491.5,214.6 491.7,200.0 492.0,160.9 492.2,203.0 492.4,177.7 492.6,198.4 492.9,200.0 493.1,203.1 493.3,179.1 493.5,197.0 493.8,206.4 494.0,177.4 494.2,199.5 494.4,210.2 494.7,197.0 494.9,225.5 495.1,167.8 495.3,193.1 495.6,187.0 495.8,175.9 496.0,167.8 496.2,168.6 496.5,190.3 496.7,191.1 496.9,188.8 497.1,196.4 497.3,169.8 497.6,167.9 497.8,187.7 498.0,170.0 498.2,168.9 498.5,183.1 498.7,209.8 498.9,162.4 499.1,162.1 499.4,180.5 499.6,186.6 499.8,163.9 500.0,202.8 500.3,172.2 500.5,183.8 500.7,162.0 500.9,163.1 501.2,158.6 501.4,163.4 501.6,181.4 501.8,188.4 502.1,186.7 502.3,197.5 502.5,181.9 502.7,185.9 502.9,182.5 503.2,162.2 503.4,182.6 503.6,182.3 503.8,160.7 504.1,184.4 504.3,179.5 504.5,204.0 504.7,166.3 505.0,186.7 505.2,190.9 505.4,158.8 505.6,194.9 505.9,169.9 506.1,180.0 506.3,176.0 506.5,178.8 506.8,180.4 507.0,201.1 507.2,175.9 507.4,170.9 507.7,159.3 507.9,180.4 508.1,179.6 508.3,156.4 508.5,161.3 508.8,190.0 509.0,156.3 509.2,194.4 509.4,171.7 509.7,177.5 509.9,165.3 510.1,176.0 510.3,152.8 510.6,178.0 510.8,163.8 511.0,175.1 511.2,188.8 511.5,182.3 511.7,192.0 511.9,178.2 512.1,161.4 512.4,167.9 512.6,181.8 512.8,168.5 513.0,176.3 513.3,179.9 513.5,175.0 513.7,177.0 513.9,159.4 514.1,161.0 514.4,190.6 514.6,160.3 514.8,172.9 515.0,158.5 515.3,161.7 515.5,175.3 515.7,171.7 515.9,171.8 516.2,165.5 516.4,178.0 516.6,176.0 516.8,173.3 517.1,164.7 517.3,174.5 517.5,155.5 517.7,173.5 518.0,149.3 518.2,172.9 518.4,152.0 518.6,173.7 518.9,162.9 519.1,175.4 519.3,151.0 519.5,176.2 519.7,161.8 520.0,191.2 520.2,186.5 520.4,168.1 520.6,176.4 520.9,179.2 521.1,174.2 521.3,157.8 521.5,171.2 521.8,186.5 522.0,174.8 522.2,171.4 522.4,154.5 522.7,168.6 522.9,172.6 523.1,149.8 523.3,177.5 523.6,170.0 523.8,158.3 524.0,153.0 524.2,167.9 524.5,151.6 524.7,154.0 524.9,164.3 525.1,159.4 525.3,157.1 525.6,150.6 525.8,171.8 526.0,151.8 526.2,157.5 526.5,170.7 526.7,165.0 526.9,156.9 527.1,161.4 527.4,184.6 527.6,183.6 527.8,161.3 528.0,184.6 528.3,169.1 528.5,168.6 528.7,168.9 528.9,160.7 529.2,174.3 529.4,173.1 529.6,155.7 529.8,163.5 530.1,171.8 530.3,174.9 530.5,174.2 530.7,157.6 530.9,188.3 531.2,174.6 531.4,175.6 531.6,181.9 531.8,174.8 532.1,169.6 532.3,169.4 532.5,180.1 532.7,157.5 533.0,166.5 533.2,174.9 533.4,160.9 533.6,161.0 533.9,160.1 534.1,176.6 534.3,159.8 534.5,162.8 534.8,163.2 535.0,157.4 535.2,165.3 535.4,168.8 535.7,180.7 535.9,167.5" stroke-width="1.8"/>
<path stroke-width="3.4" d="M468.9 241.1h0M469.1 241.7h0M469.3 240.1h0M469.6 240.9h0M469.8 239.7h0M470.0 240.4h0M470.2 238.6h0M470.5 238.0h0M470.7 239.2h0M470.9 237.3h0M471.1 237.2h0M471.4 239.0h0M471.6 237.4h0M471.8 236.7h0M472.0 236.3h0M472.3 235.8h0M472.5 239.0h0M472.7 235.9h0M472.9 238.9h0M473.2 234.8h0M473.4 238.2h0M473.6 234.1h0M473.8 237.3h0M474.1 232.7h0M474.3 234.3h0M474.5 236.0h0M474.7 235.8h0M474.9 232.2h0M475.2 235.0h0M475.4 230.9h0M475.6 235.4h0M475.8 234.7h0M476.1 228.1h0M476.3 229.2h0M476.5 233.8h0M476.7 234.3h0M477.0 234.1h0M477.2 233.0h0M477.4 231.2h0M477.6 224.3h0M477.9 221.5h0M478.1 221.2h0M478.3 230.0h0M478.5 231.8h0M478.8 226.6h0M479.0 226.4h0M479.2 219.7h0M479.4 226.6h0M479.7 216.8h0M479.9 229.6h0M480.1 227.5h0M480.3 211.6h0M480.5 207.4h0M480.8 208.7h0M481.0 206.7h0M481.2 206.0h0M481.4 216.9h0M481.7 203.8h0M481.9 206.0h0M482.1 212.6h0M482.3 216.1h0M482.6 195.3h0M482.8 217.6h0M483.0 194.0h0M483.2 192.0h0M483.5 208.1h0M483.7 191.6h0M483.9 209.7h0M484.1 199.3h0M484.4 197.2h0M484.6 211.8h0M484.8 208.1h0M485.0 226.2h0M485.3 202.8h0M485.5 217.4h0M485.7 224.1h0M485.9 194.5h0M486.1 200.6h0M486.4 194.8h0M486.6 205.0h0M486.8 208.3h0M487.0 204.9h0M487.3 186.3h0M487.5 224.4h0M487.7 186.1h0M487.9 204.3h0M488.2 206.4h0M488.4 195.7h0M488.6 202.0h0M488.8 208.1h0M489.1 217.4h0M489.3 181.2h0M489.5 173.1h0M489.7 173.2h0M490.0 203.6h0M490.2 173.3h0M490.4 179.3h0M490.6 187.2h0M490.9 206.1h0M491.1 205.3h0M491.3 195.8h0M491.5 214.6h0M491.7 200.0h0M492.0 160.9h0M492.2 203.0h0M492.4 177.7h0M492.6 198.4h0M492.9 200.0h0M493.1 203.1h0M493.3 179.1h0M493.5 197.0h0M493.8 206.4h0M494.0 177.4h0M494.2 199.5h0M494.4 210.2h0M494.7 197.0h0M494.9 225.5h0M495.1 167.8h0M495.3 193.1h0M495.6 187.0h0M495.8 175.9h0M496.0 167.8h0M496.2 168.6h0M496.5 190.3h0M496.7 191.1h0M496.9 188.8h0M497.1 196.4h0M497.3 169.8h0M497.6 167.9h0M497.8 187.7h0M498.0 170.0h0M498.2 168.9h0M498.5 183.1h0M498.7 209.8h0M498.9 162.4h0M499.1 162.1h0M499.4 180.5h0M499.6 186.6h0M499.8 163.9h0M500.0 202.8h0M500.3 172.2h0M500.5 183.8h0M500.7 162.0h0M500.9 163.1h0M501.2 158.6h0M501.4 163.4h0M501.6 181.4h0M501.8 188.4h0M502.1 186.7h0M502.3 197.5h0M502.5 181.9h0M502.7 185.9h0M502.9 182.5h0M503.2 162.2h0M503.4 182.6h0M503.6 182.3h0M503.8 160.7h0M504.1 184.4h0M504.3 179.5h0M504.5 204.0h0M504.7 166.3h0M505.0 186.7h0M505.2 190.9h0M505.4 158.8h0M505.6 194.9h0M505.9 169.9h0M506.1 180.0h0M506.3 176.0h0M506.5 178.8h0M506.8 180.4h0M507.0 201.1h0M507.2 175.9h0M507.4 170.9h0M507.7 159.3h0M507.9 180.4h0M508.1 179.6h0M508.3 156.4h0M508.5 161.3h0M508.8 190.0h0M509.0 156.3h0M509.2 194.4h0M509.4 171.7h0M509.7 177.5h0M509.9 165.3h0M510.1 176.0h0M510.3 152.8h0M510.6 178.0h0M510.8 163.8h0M511.0 175.1h0M511.2 188.8h0M511.5 182.3h0M511.7 192.0h0M511.9 178.2h0M512.1 161.4h0M512.4 167.9h0M512.6 181.8h0M512.8 168.5h0M513.0 176.3h0M513.3 179.9h0M513.5 175.0h0M513.7 177.0h0M513.9 159.4h0M514.1 161.0h0M514.4 190.6h0M514.6 160.3h0M514.8 172.9h0M515.0 158.5h0M515.3 161.7h0M515.5 175.3h0M515.7 171.7h0M515.9 171.8h0M516.2 165.5h0M516.4 178.0h0M516.6 176.0h0M516.8 173.3h0M517.1 164.7h0M517.3 174.5h0M517.5 155.5h0M517.7 173.5h0M518.0 149.3h0M518.2 172.9h0M518.4 152.0h0M518.6 173.7h0M518.9 162.9h0M519.1 175.4h0M519.3 151.0h0M519.5 176.2h0M519.7 161.8h0M520.0 191.2h0M520.2 186.5h0M520.4 168.1h0M520.6 176.4h0M520.9 179.2h0M521.1 174.2h0M521.3 157.8h0M521.5 171.2h0M521.8 186.5h0M522.0 174.8h0M522.2 171.4h0M522.4 154.5h0M522.7 168.6h0M522.9 172.6h0M523.1 149.8h0M523.3 177.5h0M523.6 170.0h0M523.8 158.3h0M524.0 153.0h0M524.2 167.9h0M524.5 151.6h0M524.7 154.0h0M524.9 164.3h0M525.1 159.4h0M525.3 157.1h0M525.6 150.6h0M525.8 171.8h0M526.0 151.8h0M526.2 157.5h0M526.5 170.7h0M526.7 165.0h0M526.9 156.9h0M527.1 161.4h0M527.4 184.6h0M527.6 183.6h0M527.8 161.3h0M528.0 184.6h0M528.3 169.1h0M528.5 168.6h0M528.7 168.9h0M528.9 160.7h0M529.2 174.3h0M529.4 173.1h0M529.6 155.7h0M529.8 163.5h0M530.1 171.8h0M530.3 174.9h0M530.5 174.2h0M530.7 157.6h0M530.9 188.3h0M531.2 174.6h0M531.4 175.6h0M531.6 181.9h0M531.8 174.8h0M532.1 169.6h0M532.3 169.4h0M532.5 180.1h0M532.7 157.5h0M533.0 166.5h0M533.2 174.9h0M533.4 160.9h0M533.6 161.0h0M533.9 160.1h0M534.1 176.6h0M534.3 159.8h0M534.5 162.8h0M534.8 163.2h0M535.0 157.4h0M535.2 165.3h0M535.4 168.8h0M535.7 180.7h0M535.9 167.5h0"/>
</g>
<text x="67.5" y="8.6" text-anchor="middle" font-size="7.4" class="t">Box</text>
<text x="24.2" y="33.5" text-anchor="end" font-size="6.6" class="k">0.10</text>
<text x="24.2" y="53.6" text-anchor="end" font-size="6.6" class="k">0.08</text>
<text x="24.2" y="73.7" text-anchor="end" font-size="6.6" class="k">0.06</text>
<text x="24.2" y="93.7" text-anchor="end" font-size="6.6" class="k">0.04</text>
<text x="24.2" y="113.8" text-anchor="end" font-size="6.6" class="k">0.02</text>
<text x="34.2" y="124.4" text-anchor="middle" font-size="6.6" class="k">0</text>
<text x="79.0" y="124.4" text-anchor="middle" font-size="6.6" class="k">200</text>
<text x="176.4" y="8.6" text-anchor="middle" font-size="7.4" class="t">Objectness</text>
<text x="132.9" y="19.0" text-anchor="end" font-size="6.6" class="k">0.040</text>
<text x="132.9" y="36.7" text-anchor="end" font-size="6.6" class="k">0.035</text>
<text x="132.9" y="54.4" text-anchor="end" font-size="6.6" class="k">0.030</text>
<text x="132.9" y="72.1" text-anchor="end" font-size="6.6" class="k">0.025</text>
<text x="132.9" y="89.8" text-anchor="end" font-size="6.6" class="k">0.020</text>
<text x="132.9" y="107.5" text-anchor="end" font-size="6.6" class="k">0.015</text>
<text x="142.9" y="124.4" text-anchor="middle" font-size="6.6" class="k">0</text>
<text x="187.7" y="124.4" text-anchor="middle" font-size="6.6" class="k">200</text>
<text x="186.4" y="23.8" font-size="6.9" class="k">results</text>
<text x="284.9" y="8.6" text-anchor="middle" font-size="7.4" class="t">Classification</text>
<text x="241.6" y="29.1" text-anchor="end" font-size="6.6" class="k">0.025</text>
<text x="241.6" y="45.6" text-anchor="end" font-size="6.6" class="k">0.020</text>
<text x="241.6" y="62.1" text-anchor="end" font-size="6.6" class="k">0.015</text>
<text x="241.6" y="78.7" text-anchor="end" font-size="6.6" class="k">0.010</text>
<text x="241.6" y="95.2" text-anchor="end" font-size="6.6" class="k">0.005</text>
<text x="241.6" y="111.7" text-anchor="end" font-size="6.6" class="k">0.000</text>
<text x="251.6" y="124.4" text-anchor="middle" font-size="6.6" class="k">0</text>
<text x="296.4" y="124.4" text-anchor="middle" font-size="6.6" class="k">200</text>
<text x="393.3" y="8.6" text-anchor="middle" font-size="7.4" class="t">Precision</text>
<text x="350.2" y="38.5" text-anchor="end" font-size="6.6" class="k">0.6</text>
<text x="350.2" y="62.7" text-anchor="end" font-size="6.6" class="k">0.4</text>
<text x="350.2" y="86.9" text-anchor="end" font-size="6.6" class="k">0.2</text>
<text x="350.2" y="111.1" text-anchor="end" font-size="6.6" class="k">0.0</text>
<text x="360.2" y="124.4" text-anchor="middle" font-size="6.6" class="k">0</text>
<text x="405.0" y="124.4" text-anchor="middle" font-size="6.6" class="k">200</text>
<text x="502.6" y="8.6" text-anchor="middle" font-size="7.4" class="t">Recall</text>
<text x="458.9" y="29.1" text-anchor="end" font-size="6.6" class="k">0.5</text>
<text x="458.9" y="47.5" text-anchor="end" font-size="6.6" class="k">0.4</text>
<text x="458.9" y="66.0" text-anchor="end" font-size="6.6" class="k">0.3</text>
<text x="458.9" y="84.4" text-anchor="end" font-size="6.6" class="k">0.2</text>
<text x="458.9" y="102.8" text-anchor="end" font-size="6.6" class="k">0.1</text>
<text x="468.9" y="124.4" text-anchor="middle" font-size="6.6" class="k">0</text>
<text x="513.7" y="124.4" text-anchor="middle" font-size="6.6" class="k">200</text>
<text x="67.6" y="140.9" text-anchor="middle" font-size="7.4" class="t">val Box</text>
<text x="24.2" y="149.2" text-anchor="end" font-size="6.6" class="k">0.09</text>
<text x="24.2" y="168.5" text-anchor="end" font-size="6.6" class="k">0.08</text>
<text x="24.2" y="187.8" text-anchor="end" font-size="6.6" class="k">0.07</text>
<text x="24.2" y="207.1" text-anchor="end" font-size="6.6" class="k">0.06</text>
<text x="24.2" y="226.4" text-anchor="end" font-size="6.6" class="k">0.05</text>
<text x="24.2" y="245.7" text-anchor="end" font-size="6.6" class="k">0.04</text>
<text x="34.2" y="257.6" text-anchor="middle" font-size="6.6" class="k">0</text>
<text x="79.0" y="257.6" text-anchor="middle" font-size="6.6" class="k">200</text>
<text x="176.3" y="140.9" text-anchor="middle" font-size="7.4" class="t">val Objectness</text>
<text x="132.9" y="162.4" text-anchor="end" font-size="6.6" class="k">0.034</text>
<text x="132.9" y="177.5" text-anchor="end" font-size="6.6" class="k">0.032</text>
<text x="132.9" y="192.6" text-anchor="end" font-size="6.6" class="k">0.030</text>
<text x="132.9" y="207.7" text-anchor="end" font-size="6.6" class="k">0.028</text>
<text x="132.9" y="222.8" text-anchor="end" font-size="6.6" class="k">0.026</text>
<text x="132.9" y="237.9" text-anchor="end" font-size="6.6" class="k">0.024</text>
<text x="142.9" y="257.6" text-anchor="middle" font-size="6.6" class="k">0</text>
<text x="187.7" y="257.6" text-anchor="middle" font-size="6.6" class="k">200</text>
<text x="284.5" y="140.9" text-anchor="middle" font-size="7.4" class="t">val Classification</text>
<text x="241.6" y="164.7" text-anchor="end" font-size="6.6" class="k">0.020</text>
<text x="241.6" y="184.6" text-anchor="end" font-size="6.6" class="k">0.015</text>
<text x="241.6" y="204.5" text-anchor="end" font-size="6.6" class="k">0.010</text>
<text x="241.6" y="224.4" text-anchor="end" font-size="6.6" class="k">0.005</text>
<text x="241.6" y="244.3" text-anchor="end" font-size="6.6" class="k">0.000</text>
<text x="251.6" y="257.6" text-anchor="middle" font-size="6.6" class="k">0</text>
<text x="296.4" y="257.6" text-anchor="middle" font-size="6.6" class="k">200</text>
<text x="393.2" y="140.9" text-anchor="middle" font-size="7.4" class="t">mAP@0.5</text>
<text x="350.2" y="153.4" text-anchor="end" font-size="6.6" class="k">0.4</text>
<text x="350.2" y="176.1" text-anchor="end" font-size="6.6" class="k">0.3</text>
<text x="350.2" y="198.7" text-anchor="end" font-size="6.6" class="k">0.2</text>
<text x="350.2" y="221.3" text-anchor="end" font-size="6.6" class="k">0.1</text>
<text x="350.2" y="244.0" text-anchor="end" font-size="6.6" class="k">0.0</text>
<text x="360.2" y="257.6" text-anchor="middle" font-size="6.6" class="k">0</text>
<text x="405.0" y="257.6" text-anchor="middle" font-size="6.6" class="k">200</text>
<text x="502.3" y="140.9" text-anchor="middle" font-size="7.4" class="t">mAP@0.5:0.95</text>
<text x="458.9" y="156.9" text-anchor="end" font-size="6.6" class="k">0.15</text>
<text x="458.9" y="186.0" text-anchor="end" font-size="6.6" class="k">0.10</text>
<text x="458.9" y="215.1" text-anchor="end" font-size="6.6" class="k">0.05</text>
<text x="458.9" y="244.2" text-anchor="end" font-size="6.6" class="k">0.00</text>
<text x="468.9" y="257.6" text-anchor="middle" font-size="6.6" class="k">0</text>
<text x="513.7" y="257.6" text-anchor="middle" font-size="6.6" class="k">200</text>
</svg>
</body></html>
